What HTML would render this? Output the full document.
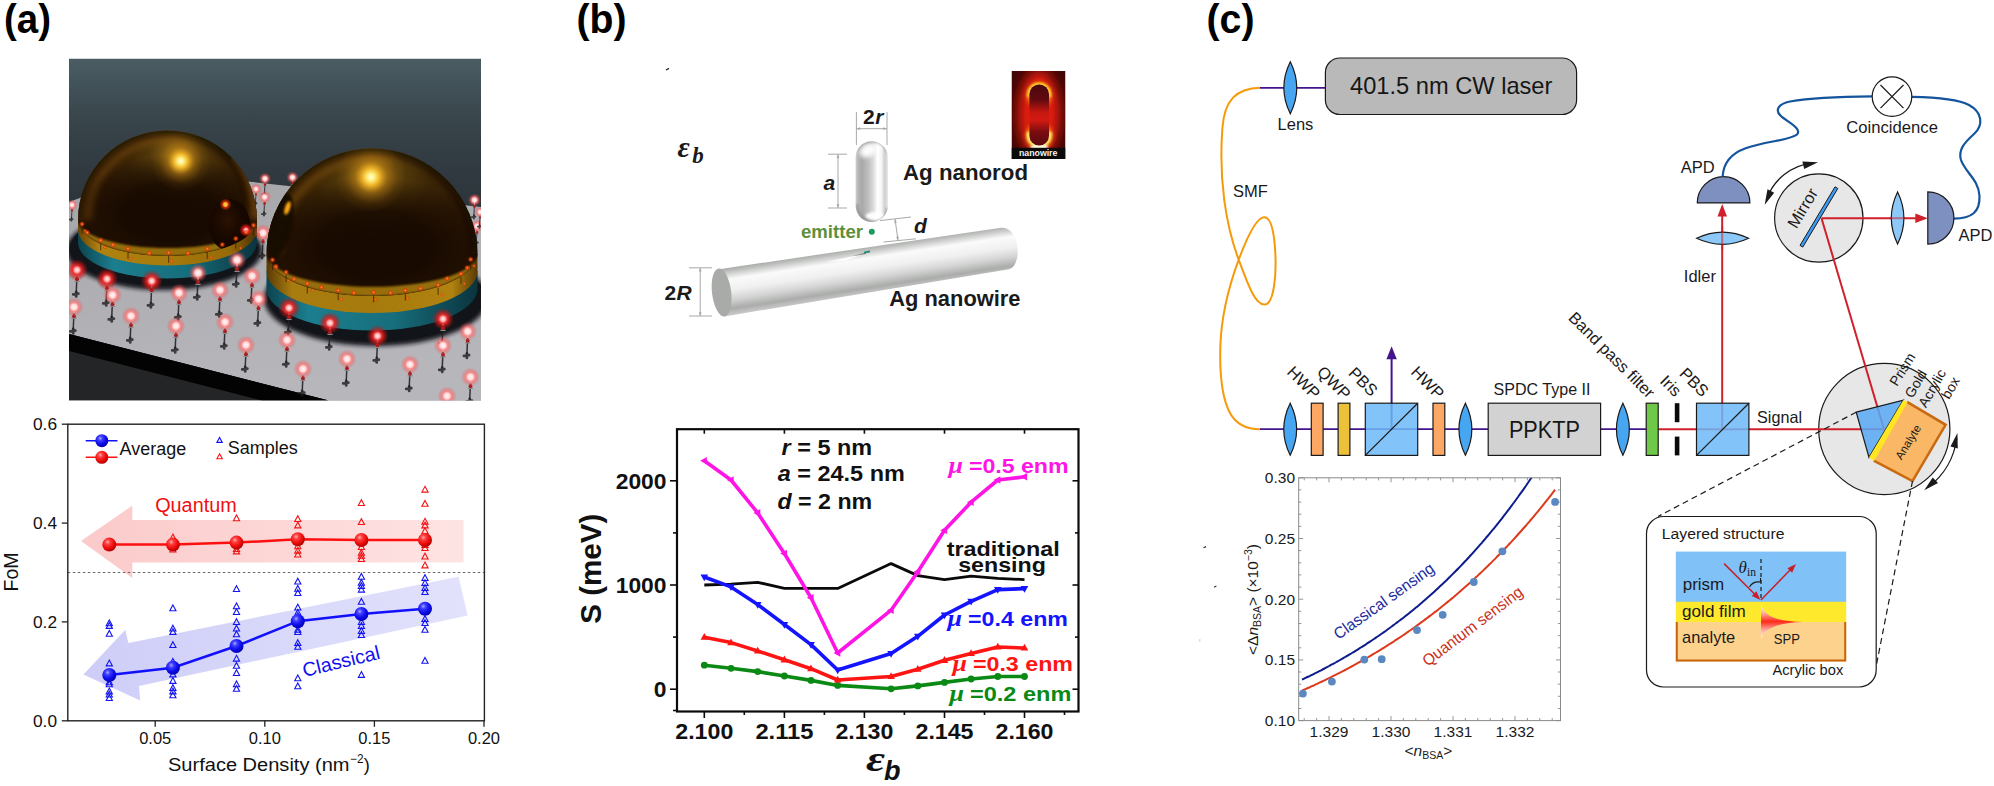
<!DOCTYPE html>
<html lang="en"><head><meta charset="utf-8"><title>Quantum plasmonic sensing figure</title>
<style>
html,body{margin:0;padding:0;background:#fff;}
body{width:1994px;height:786px;overflow:hidden;font-family:"Liberation Sans",sans-serif;}
svg{display:block;}
text{white-space:pre;}
</style></head><body>
<svg width="1994" height="786" viewBox="0 0 1994 786">
<rect width="1994" height="786" fill="#fff"/>
<defs>
<clipPath id="clipA"><rect x="69" y="58.5" width="412" height="342.0"/></clipPath>
<linearGradient id="bgA" x1="0" y1="0" x2="0" y2="1">
 <stop offset="0" stop-color="#4b5d63"/><stop offset=".07" stop-color="#43535a"/><stop offset=".18" stop-color="#38454b"/><stop offset=".32" stop-color="#303a40"/><stop offset=".45" stop-color="#2b3439"/><stop offset="1" stop-color="#24292e"/></linearGradient>
<linearGradient id="floorA" x1="0" y1="0" x2="0.25" y2="1">
 <stop offset="0" stop-color="#a4a5a9"/><stop offset=".5" stop-color="#aeaeb3"/><stop offset="1" stop-color="#b6b6bb"/></linearGradient>
<radialGradient id="gPink"><stop offset="0" stop-color="#fff6f6"/><stop offset=".3" stop-color="#ffdada"/><stop offset=".46" stop-color="#ff8c8c" stop-opacity=".9"/><stop offset=".7" stop-color="#ff5a5a" stop-opacity=".4"/><stop offset="1" stop-color="#ff4a4a" stop-opacity="0"/></radialGradient>
<radialGradient id="gRed"><stop offset="0" stop-color="#fff0f0"/><stop offset=".22" stop-color="#ffb0b0"/><stop offset=".4" stop-color="#f02a2a" stop-opacity=".95"/><stop offset=".68" stop-color="#d01414" stop-opacity=".55"/><stop offset="1" stop-color="#c01010" stop-opacity="0"/></radialGradient>
<radialGradient id="gOr"><stop offset="0" stop-color="#ffb060"/><stop offset=".3" stop-color="#ff5a10"/><stop offset=".65" stop-color="#e03000" stop-opacity=".6"/><stop offset="1" stop-color="#e03000" stop-opacity="0"/></radialGradient>
<radialGradient id="core"><stop offset="0" stop-color="#140700" stop-opacity=".92"/><stop offset=".5" stop-color="#140700" stop-opacity=".8"/><stop offset=".8" stop-color="#140700" stop-opacity=".35"/><stop offset="1" stop-color="#140700" stop-opacity="0"/></radialGradient>
<radialGradient id="refl" cx=".45" cy=".4" r=".6"><stop offset="0" stop-color="#2a1202"/><stop offset=".6" stop-color="#180800"/><stop offset=".9" stop-color="#120500"/><stop offset="1" stop-color="#120500" stop-opacity=".6"/></radialGradient>
<radialGradient id="hl"><stop offset="0" stop-color="#ffffe0"/><stop offset=".1" stop-color="#fff080"/><stop offset=".24" stop-color="#f4b828" stop-opacity=".95"/><stop offset=".45" stop-color="#c88a18" stop-opacity=".5"/><stop offset=".75" stop-color="#a06a10" stop-opacity=".15"/><stop offset="1" stop-color="#a06a10" stop-opacity="0"/></radialGradient>
<radialGradient id="dg1" gradientUnits="userSpaceOnUse" cx="176" cy="150" r="125">
 <stop offset="0" stop-color="#8a6214"/><stop offset=".1" stop-color="#6e4e10"/><stop offset=".22" stop-color="#50370a"/><stop offset=".4" stop-color="#3a2406"/><stop offset=".65" stop-color="#2b1603"/><stop offset="1" stop-color="#201002"/></radialGradient>
<radialGradient id="dg2" gradientUnits="userSpaceOnUse" cx="372" cy="170" r="150">
 <stop offset="0" stop-color="#8a6214"/><stop offset=".1" stop-color="#6e4e10"/><stop offset=".22" stop-color="#50370a"/><stop offset=".4" stop-color="#3a2406"/><stop offset=".65" stop-color="#2b1603"/><stop offset="1" stop-color="#201002"/></radialGradient>
<linearGradient id="gband1" x1="0" y1="0" x2="1" y2="0"><stop offset="0" stop-color="#6a4406"/><stop offset=".12" stop-color="#b08210"/><stop offset=".5" stop-color="#a67a0c"/><stop offset=".85" stop-color="#966a08"/><stop offset="1" stop-color="#4a2e04"/></linearGradient>
<linearGradient id="gband2" x1="0" y1="0" x2="1" y2="0"><stop offset="0" stop-color="#5a3a06"/><stop offset=".12" stop-color="#a87c0e"/><stop offset=".5" stop-color="#a67a0c"/><stop offset=".88" stop-color="#b08210"/><stop offset="1" stop-color="#5a3a04"/></linearGradient>
<linearGradient id="teal1" x1="0" y1="0" x2="1" y2="0"><stop offset="0" stop-color="#0c4450"/><stop offset=".2" stop-color="#1b7e8e"/><stop offset=".6" stop-color="#176e7c"/><stop offset="1" stop-color="#0a343e"/></linearGradient>
<linearGradient id="teal2" x1="0" y1="0" x2="1" y2="0"><stop offset="0" stop-color="#0c4450"/><stop offset=".2" stop-color="#1b7e8e"/><stop offset=".6" stop-color="#176e7c"/><stop offset="1" stop-color="#0a343e"/></linearGradient>
<filter id="blur05" x="-40%" y="-40%" width="180%" height="180%"><feGaussianBlur stdDeviation="0.6"/></filter>
<filter id="blur1" x="-20%" y="-20%" width="140%" height="140%"><feGaussianBlur stdDeviation="0.8"/></filter>
<filter id="blur2" x="-20%" y="-20%" width="140%" height="140%"><feGaussianBlur stdDeviation="2"/></filter>
<filter id="blur3" x="-20%" y="-20%" width="140%" height="140%"><feGaussianBlur stdDeviation="3"/></filter>
<filter id="blur6" x="-70%" y="-70%" width="240%" height="240%"><feGaussianBlur stdDeviation="8"/></filter>
</defs>
<g clip-path="url(#clipA)">
<rect x="69" y="58.5" width="412" height="342.0" fill="url(#bgA)"/>
<polygon points="69.0,202.0 150.0,172.0 250.0,181.7 481.0,207.0 481.0,400.5 328.6,400.5 69.0,334.0" fill="url(#floorA)"/>
<polygon points="69.0,334.0 328.6,400.5 69.0,400.5" fill="#242526"/>
<polygon points="69.0,334.0 328.6,400.5 262.0,400.5 69.0,351.0" fill="#030303"/>
<path d="M69.7,219.6 l3.1,-0.4 M71.5,218.1 v2.8" stroke="#1a1a1e" stroke-width="1.6" stroke-linecap="round" opacity=".78" filter="url(#blur05)"/><path d="M72.0,208.0 L71.5,218.8" stroke="#242226" stroke-width="0.9" opacity=".9"/><path d="M70.4,211.8 h3.1" stroke="#8a8a8e" stroke-width="0.8"/><circle cx="72.0" cy="210.5" r="1.1" fill="#a81c1c"/><path d="M72.0,206.8 v2.0" stroke="#ffe8e8" stroke-width="0.8"/><circle cx="72.0" cy="205.0" r="5.7" fill="url(#gPink)"/>
<path d="M262.5,194.6 l3.4,-0.5 M264.5,192.9 v3.0" stroke="#1a1a1e" stroke-width="1.8" stroke-linecap="round" opacity=".78" filter="url(#blur05)"/><path d="M265.0,181.9 L264.5,193.6" stroke="#242226" stroke-width="1.0" opacity=".9"/><path d="M263.3,186.1 h3.4" stroke="#8a8a8e" stroke-width="0.8"/><circle cx="265.0" cy="184.7" r="1.2" fill="#a81c1c"/><path d="M265.0,180.6 v2.2" stroke="#ffe8e8" stroke-width="0.9"/><circle cx="265.0" cy="178.7" r="6.2" fill="url(#gPink)"/>
<path d="M290.0,193.3 l3.4,-0.5 M292.0,191.6 v3.0" stroke="#1a1a1e" stroke-width="1.8" stroke-linecap="round" opacity=".78" filter="url(#blur05)"/><path d="M292.5,180.7 L292.0,192.3" stroke="#242226" stroke-width="1.0" opacity=".9"/><path d="M290.8,184.8 h3.4" stroke="#8a8a8e" stroke-width="0.8"/><circle cx="292.5" cy="183.4" r="1.2" fill="#a81c1c"/><path d="M292.5,179.3 v2.2" stroke="#ffe8e8" stroke-width="0.9"/><circle cx="292.5" cy="177.4" r="6.2" fill="url(#gPink)"/>
<path d="M261.9,214.1 l3.6,-0.5 M264.0,212.3 v3.2" stroke="#1a1a1e" stroke-width="1.9" stroke-linecap="round" opacity=".78" filter="url(#blur05)"/><path d="M264.6,200.5 L264.0,213.1" stroke="#242226" stroke-width="1.0" opacity=".9"/><path d="M262.8,205.0 h3.6" stroke="#8a8a8e" stroke-width="0.9"/><circle cx="264.6" cy="203.4" r="1.3" fill="#a81c1c"/><path d="M264.6,199.1 v2.4" stroke="#ffe8e8" stroke-width="1.0"/><circle cx="264.6" cy="197.0" r="6.6" fill="url(#gPink)"/>
<path d="M253.7,203.6 l3.1,-0.4 M255.5,202.1 v2.8" stroke="#1a1a1e" stroke-width="1.6" stroke-linecap="round" opacity=".78" filter="url(#blur05)"/><path d="M256.0,192.0 L255.5,202.8" stroke="#242226" stroke-width="0.9" opacity=".9"/><path d="M254.4,195.8 h3.1" stroke="#8a8a8e" stroke-width="0.8"/><circle cx="256.0" cy="194.5" r="1.1" fill="#a81c1c"/><path d="M256.0,190.8 v2.0" stroke="#ffe8e8" stroke-width="0.8"/><circle cx="256.0" cy="189.0" r="5.7" fill="url(#gPink)"/>
<path d="M471.8,217.1 l3.6,-0.5 M473.9,215.3 v3.2" stroke="#1a1a1e" stroke-width="1.9" stroke-linecap="round" opacity=".78" filter="url(#blur05)"/><path d="M474.5,203.5 L473.9,216.1" stroke="#242226" stroke-width="1.0" opacity=".9"/><path d="M472.7,208.0 h3.6" stroke="#8a8a8e" stroke-width="0.9"/><circle cx="474.5" cy="206.4" r="1.3" fill="#a81c1c"/><path d="M474.5,202.1 v2.4" stroke="#ffe8e8" stroke-width="1.0"/><circle cx="474.5" cy="200.0" r="6.6" fill="url(#gPink)"/>
<path d="M474.3,243.1 l3.6,-0.5 M476.4,241.3 v3.2" stroke="#1a1a1e" stroke-width="1.9" stroke-linecap="round" opacity=".78" filter="url(#blur05)"/><path d="M477.0,229.5 L476.4,242.1" stroke="#242226" stroke-width="1.0" opacity=".9"/><path d="M475.2,234.0 h3.6" stroke="#8a8a8e" stroke-width="0.9"/><circle cx="477.0" cy="232.4" r="1.3" fill="#a81c1c"/><path d="M477.0,228.1 v2.4" stroke="#ffe8e8" stroke-width="1.0"/><circle cx="477.0" cy="226.0" r="6.6" fill="url(#gPink)"/>
<path d="M477.7,226.6 l3.1,-0.4 M479.5,225.1 v2.8" stroke="#1a1a1e" stroke-width="1.6" stroke-linecap="round" opacity=".78" filter="url(#blur05)"/><path d="M480.0,215.0 L479.5,225.8" stroke="#242226" stroke-width="0.9" opacity=".9"/><path d="M478.4,218.8 h3.1" stroke="#8a8a8e" stroke-width="0.8"/><circle cx="480.0" cy="217.5" r="1.1" fill="#a81c1c"/><path d="M480.0,213.8 v2.0" stroke="#ffe8e8" stroke-width="0.8"/><circle cx="480.0" cy="212.0" r="5.7" fill="url(#gPink)"/>
<ellipse cx="164" cy="250" rx="98" ry="40" fill="#15181c" filter="url(#blur2)"/><ellipse cx="164" cy="248" rx="94" ry="37" fill="#111418"/><path d="M78.0,229.5 L78.0,242.5 A89.5,36 0 0 0 257.0,242.5 L257.0,229.5 Z" fill="url(#teal1)"/><path d="M78.0,220 L78.0,229.5 A89.5,36 0 0 0 257.0,229.5 L257.0,220 Z" fill="url(#gband1)"/><clipPath id="dc1"><path d="M78.0,220 A89.5,89.5 0 0 1 257.0,220 A89.5,36 0 0 1 78.0,220 Z"/></clipPath><path d="M78.0,220 A89.5,89.5 0 0 1 257.0,220 A89.5,36 0 0 1 78.0,220 Z" fill="url(#dg1)"/><g clip-path="url(#dc1)"><path d="M83.0,220 A84.5,84.5 0 0 1 185.4,135.5" fill="none" stroke="#7a4e0c" stroke-width="19.7" opacity=".55" filter="url(#blur3)"/><ellipse cx="171.1" cy="211.1" rx="94.0" ry="55.5" fill="url(#core)"/><path d="M78.0,220 A89.5,36 0 0 0 257.0,220 A89.5,28.1 0 0 1 78.0,220 Z" fill="#9e740c" opacity=".95" filter="url(#blur1)"/><path d="M78.0,220 A89.5,89.5 0 0 1 257.0,220" fill="none" stroke="#120800" stroke-width="9" opacity=".85" filter="url(#blur3)"/><circle cx="180.8" cy="161" r="30.4" fill="url(#hl)"/></g>
<g clip-path="url(#dc1)"><path d="M236,150 A89.5,89.5 0 0 1 257,220" fill="none" stroke="#7a4a0a" stroke-width="16" opacity=".7" filter="url(#blur3)"/><ellipse cx="229.5" cy="225" rx="20.5" ry="26" fill="url(#refl)"/><circle cx="225.5" cy="204.5" r="6" fill="url(#gOr)"/><circle cx="225.5" cy="204.5" r="2.2" fill="#ffc040"/></g>
<path d="M259.4,256.2 l4.9,-0.7 M262.2,253.7 v4.4" stroke="#1a1a1e" stroke-width="2.6" stroke-linecap="round" opacity=".78" filter="url(#blur05)"/><path d="M263.0,237.8 L262.2,254.9" stroke="#242226" stroke-width="1.4" opacity=".9"/><path d="M260.5,243.8 h4.9" stroke="#8a8a8e" stroke-width="1.2"/><circle cx="263.0" cy="241.7" r="1.8" fill="#a81c1c"/><path d="M263.0,235.8 v3.2" stroke="#ffe8e8" stroke-width="1.3"/><circle cx="263.0" cy="233.0" r="9.0" fill="url(#gPink)"/>
<ellipse cx="376" cy="298.5" rx="112" ry="47.5" fill="#15181c" filter="url(#blur2)"/><ellipse cx="376" cy="296.5" rx="108" ry="44.5" fill="#111418"/><path d="M266.5,271 L266.5,288.5 A105.5,42 0 0 0 477.5,288.5 L477.5,271 Z" fill="url(#teal2)"/><path d="M266.5,254 L266.5,271 A105.5,42 0 0 0 477.5,271 L477.5,254 Z" fill="url(#gband2)"/><clipPath id="dc2"><path d="M266.5,254 A105.5,105.5 0 0 1 477.5,254 A105.5,42 0 0 1 266.5,254 Z"/></clipPath><path d="M266.5,254 A105.5,105.5 0 0 1 477.5,254 A105.5,42 0 0 1 266.5,254 Z" fill="url(#dg2)"/><g clip-path="url(#dc2)"><path d="M271.5,254 A100.5,100.5 0 0 1 393.1,153.5" fill="none" stroke="#7a4e0c" stroke-width="23.2" opacity=".55" filter="url(#blur3)"/><ellipse cx="376.2" cy="243.4" rx="110.8" ry="65.4" fill="url(#core)"/><path d="M266.5,254 A105.5,42 0 0 0 477.5,254 A105.5,32.8 0 0 1 266.5,254 Z" fill="#9e740c" opacity=".95" filter="url(#blur1)"/><path d="M266.5,254 A105.5,105.5 0 0 1 477.5,254" fill="none" stroke="#120800" stroke-width="9" opacity=".85" filter="url(#blur3)"/><circle cx="371" cy="177" r="35.9" fill="url(#hl)"/></g>
<g clip-path="url(#dc2)"><ellipse cx="280" cy="226" rx="11.5" ry="33" fill="#160700" opacity=".95" transform="rotate(13 280 226)" filter="url(#blur1)"/><ellipse cx="287.5" cy="208" rx="2.6" ry="7" fill="#ffa818" transform="rotate(18 287.5 208)" filter="url(#blur1)"/></g>
<circle cx="246" cy="230" r="7" fill="url(#gRed)"/><circle cx="82.0" cy="224.1" r="3.1" fill="url(#gOr)" opacity=".85"/><path d="M82.0,227.1 v7" stroke="#3a2000" stroke-width="1" opacity=".8"/><circle cx="85.2" cy="230.7" r="2.3" fill="url(#gOr)" opacity=".7"/><circle cx="87.3" cy="232.5" r="3.1" fill="url(#gOr)" opacity=".85"/><circle cx="100.7" cy="240.3" r="3.1" fill="url(#gOr)" opacity=".85"/><path d="M100.7,243.3 v7" stroke="#3a2000" stroke-width="1" opacity=".8"/><circle cx="105.0" cy="247.2" r="2.3" fill="url(#gOr)" opacity=".7"/><circle cx="112.9" cy="244.9" r="3.1" fill="url(#gOr)" opacity=".85"/><circle cx="128.0" cy="248.8" r="3.1" fill="url(#gOr)" opacity=".85"/><path d="M128.0,251.8 v7" stroke="#3a2000" stroke-width="1" opacity=".8"/><circle cx="130.6" cy="258.5" r="2.3" fill="url(#gOr)" opacity=".7"/><circle cx="149.2" cy="253.2" r="3.1" fill="url(#gOr)" opacity=".85"/><circle cx="168.7" cy="252.7" r="3.1" fill="url(#gOr)" opacity=".85"/><path d="M168.7,255.7 v7" stroke="#3a2000" stroke-width="1" opacity=".8"/><circle cx="171.6" cy="261.2" r="2.3" fill="url(#gOr)" opacity=".7"/><circle cx="188.0" cy="253.3" r="3.1" fill="url(#gOr)" opacity=".85"/><circle cx="207.2" cy="248.8" r="3.1" fill="url(#gOr)" opacity=".85"/><path d="M207.2,251.8 v7" stroke="#3a2000" stroke-width="1" opacity=".8"/><circle cx="211.0" cy="257.5" r="2.3" fill="url(#gOr)" opacity=".7"/><circle cx="222.3" cy="244.6" r="3.1" fill="url(#gOr)" opacity=".85"/><circle cx="235.8" cy="238.6" r="3.1" fill="url(#gOr)" opacity=".85"/><path d="M235.8,241.6 v7" stroke="#3a2000" stroke-width="1" opacity=".8"/><circle cx="240.6" cy="248.1" r="2.3" fill="url(#gOr)" opacity=".7"/><circle cx="246.2" cy="232.2" r="3.1" fill="url(#gOr)" opacity=".85"/><circle cx="253.5" cy="225.2" r="3.1" fill="url(#gOr)" opacity=".85"/><path d="M253.5,228.2 v7" stroke="#3a2000" stroke-width="1" opacity=".8"/><circle cx="258.2" cy="234.6" r="2.3" fill="url(#gOr)" opacity=".7"/><circle cx="272.5" cy="259.9" r="3.1" fill="url(#gOr)" opacity=".85"/><path d="M272.5,262.9 v7" stroke="#3a2000" stroke-width="1" opacity=".8"/><circle cx="276.3" cy="267.7" r="2.3" fill="url(#gOr)" opacity=".7"/><circle cx="275.9" cy="266.4" r="3.1" fill="url(#gOr)" opacity=".85"/><circle cx="286.1" cy="272.1" r="3.1" fill="url(#gOr)" opacity=".85"/><path d="M286.1,275.1 v7" stroke="#3a2000" stroke-width="1" opacity=".8"/><circle cx="288.2" cy="280.6" r="2.3" fill="url(#gOr)" opacity=".7"/><circle cx="294.1" cy="279.0" r="3.1" fill="url(#gOr)" opacity=".85"/><circle cx="307.3" cy="283.5" r="3.1" fill="url(#gOr)" opacity=".85"/><path d="M307.3,286.5 v7" stroke="#3a2000" stroke-width="1" opacity=".8"/><circle cx="312.3" cy="290.3" r="2.3" fill="url(#gOr)" opacity=".7"/><circle cx="321.5" cy="287.2" r="3.1" fill="url(#gOr)" opacity=".85"/><circle cx="338.2" cy="290.3" r="3.1" fill="url(#gOr)" opacity=".85"/><path d="M338.2,293.3 v7" stroke="#3a2000" stroke-width="1" opacity=".8"/><circle cx="341.3" cy="299.3" r="2.3" fill="url(#gOr)" opacity=".7"/><circle cx="353.9" cy="292.8" r="3.1" fill="url(#gOr)" opacity=".85"/><circle cx="373.6" cy="292.3" r="3.1" fill="url(#gOr)" opacity=".85"/><path d="M373.6,295.3 v7" stroke="#3a2000" stroke-width="1" opacity=".8"/><circle cx="375.8" cy="299.2" r="2.3" fill="url(#gOr)" opacity=".7"/><circle cx="390.5" cy="292.9" r="3.1" fill="url(#gOr)" opacity=".85"/><circle cx="405.3" cy="290.4" r="3.1" fill="url(#gOr)" opacity=".85"/><path d="M405.3,293.4 v7" stroke="#3a2000" stroke-width="1" opacity=".8"/><circle cx="407.8" cy="298.3" r="2.3" fill="url(#gOr)" opacity=".7"/><circle cx="420.4" cy="288.4" r="3.1" fill="url(#gOr)" opacity=".85"/><circle cx="438.1" cy="285.0" r="3.1" fill="url(#gOr)" opacity=".85"/><path d="M438.1,288.0 v7" stroke="#3a2000" stroke-width="1" opacity=".8"/><circle cx="442.3" cy="294.8" r="2.3" fill="url(#gOr)" opacity=".7"/><circle cx="447.1" cy="278.5" r="3.1" fill="url(#gOr)" opacity=".85"/><circle cx="461.0" cy="273.9" r="3.1" fill="url(#gOr)" opacity=".85"/><path d="M461.0,276.9 v7" stroke="#3a2000" stroke-width="1" opacity=".8"/><circle cx="464.3" cy="283.7" r="2.3" fill="url(#gOr)" opacity=".7"/><circle cx="467.2" cy="267.7" r="3.1" fill="url(#gOr)" opacity=".85"/><circle cx="470.7" cy="259.4" r="3.1" fill="url(#gOr)" opacity=".85"/><path d="M470.7,262.4 v7" stroke="#3a2000" stroke-width="1" opacity=".8"/><circle cx="474.0" cy="265.9" r="2.3" fill="url(#gOr)" opacity=".7"/>
<path d="M73.2,294.4 l5.2,-0.7 M76.2,291.8 v4.6" stroke="#1a1a1e" stroke-width="2.7" stroke-linecap="round" opacity=".78" filter="url(#blur05)"/><path d="M77.0,275.0 L76.2,293.0" stroke="#242226" stroke-width="1.5" opacity=".9"/><path d="M74.4,281.4 h5.2" stroke="#8a8a8e" stroke-width="1.3"/><circle cx="77.0" cy="279.2" r="1.9" fill="#a81c1c"/><path d="M77.0,273.0 v3.4" stroke="#ffe8e8" stroke-width="1.4"/><circle cx="77.0" cy="270.0" r="11.0" fill="url(#gRed)"/>
<path d="M103.2,303.4 l5.2,-0.7 M106.2,300.8 v4.6" stroke="#1a1a1e" stroke-width="2.7" stroke-linecap="round" opacity=".78" filter="url(#blur05)"/><path d="M107.0,284.0 L106.2,302.0" stroke="#242226" stroke-width="1.5" opacity=".9"/><path d="M104.4,290.4 h5.2" stroke="#8a8a8e" stroke-width="1.3"/><circle cx="107.0" cy="288.2" r="1.9" fill="#a81c1c"/><path d="M107.0,282.0 v3.4" stroke="#ffe8e8" stroke-width="1.4"/><circle cx="107.0" cy="279.0" r="11.0" fill="url(#gRed)"/>
<path d="M108.7,319.4 l5.2,-0.7 M111.7,316.8 v4.6" stroke="#1a1a1e" stroke-width="2.7" stroke-linecap="round" opacity=".78" filter="url(#blur05)"/><path d="M112.5,300.0 L111.7,318.0" stroke="#242226" stroke-width="1.5" opacity=".9"/><path d="M109.9,306.4 h5.2" stroke="#8a8a8e" stroke-width="1.3"/><circle cx="112.5" cy="304.2" r="1.9" fill="#a81c1c"/><path d="M112.5,298.0 v3.4" stroke="#ffe8e8" stroke-width="1.4"/><circle cx="112.5" cy="295.0" r="9.5" fill="url(#gPink)"/>
<path d="M147.9,305.4 l5.2,-0.7 M150.9,302.8 v4.6" stroke="#1a1a1e" stroke-width="2.7" stroke-linecap="round" opacity=".78" filter="url(#blur05)"/><path d="M151.7,286.0 L150.9,304.0" stroke="#242226" stroke-width="1.5" opacity=".9"/><path d="M149.1,292.4 h5.2" stroke="#8a8a8e" stroke-width="1.3"/><circle cx="151.7" cy="290.2" r="1.9" fill="#a81c1c"/><path d="M151.7,284.0 v3.4" stroke="#ffe8e8" stroke-width="1.4"/><circle cx="151.7" cy="281.0" r="11.0" fill="url(#gRed)"/>
<path d="M194.2,297.4 l5.2,-0.7 M197.2,294.8 v4.6" stroke="#1a1a1e" stroke-width="2.7" stroke-linecap="round" opacity=".78" filter="url(#blur05)"/><path d="M198.0,278.0 L197.2,296.0" stroke="#242226" stroke-width="1.5" opacity=".9"/><path d="M195.4,284.4 h5.2" stroke="#8a8a8e" stroke-width="1.3"/><circle cx="198.0" cy="282.2" r="1.9" fill="#a81c1c"/><path d="M198.0,276.0 v3.4" stroke="#ffe8e8" stroke-width="1.4"/><circle cx="198.0" cy="273.0" r="9.5" fill="url(#gPink)"/>
<path d="M233.2,284.4 l5.2,-0.7 M236.2,281.8 v4.6" stroke="#1a1a1e" stroke-width="2.7" stroke-linecap="round" opacity=".78" filter="url(#blur05)"/><path d="M237.0,265.0 L236.2,283.0" stroke="#242226" stroke-width="1.5" opacity=".9"/><path d="M234.4,271.4 h5.2" stroke="#8a8a8e" stroke-width="1.3"/><circle cx="237.0" cy="269.2" r="1.9" fill="#a81c1c"/><path d="M237.0,263.0 v3.4" stroke="#ffe8e8" stroke-width="1.4"/><circle cx="237.0" cy="260.0" r="9.5" fill="url(#gPink)"/>
<path d="M248.2,300.4 l5.2,-0.7 M251.2,297.8 v4.6" stroke="#1a1a1e" stroke-width="2.7" stroke-linecap="round" opacity=".78" filter="url(#blur05)"/><path d="M252.0,281.0 L251.2,299.0" stroke="#242226" stroke-width="1.5" opacity=".9"/><path d="M249.4,287.4 h5.2" stroke="#8a8a8e" stroke-width="1.3"/><circle cx="252.0" cy="285.2" r="1.9" fill="#a81c1c"/><path d="M252.0,279.0 v3.4" stroke="#ffe8e8" stroke-width="1.4"/><circle cx="252.0" cy="276.0" r="9.5" fill="url(#gPink)"/>
<path d="M70.2,331.4 l5.2,-0.7 M73.2,328.8 v4.6" stroke="#1a1a1e" stroke-width="2.7" stroke-linecap="round" opacity=".78" filter="url(#blur05)"/><path d="M74.0,312.0 L73.2,330.0" stroke="#242226" stroke-width="1.5" opacity=".9"/><path d="M71.4,318.4 h5.2" stroke="#8a8a8e" stroke-width="1.3"/><circle cx="74.0" cy="316.2" r="1.9" fill="#a81c1c"/><path d="M74.0,310.0 v3.4" stroke="#ffe8e8" stroke-width="1.4"/><circle cx="74.0" cy="307.0" r="9.5" fill="url(#gPink)"/>
<path d="M127.2,340.4 l5.2,-0.7 M130.2,337.8 v4.6" stroke="#1a1a1e" stroke-width="2.7" stroke-linecap="round" opacity=".78" filter="url(#blur05)"/><path d="M131.0,321.0 L130.2,339.0" stroke="#242226" stroke-width="1.5" opacity=".9"/><path d="M128.4,327.4 h5.2" stroke="#8a8a8e" stroke-width="1.3"/><circle cx="131.0" cy="325.2" r="1.9" fill="#a81c1c"/><path d="M131.0,319.0 v3.4" stroke="#ffe8e8" stroke-width="1.4"/><circle cx="131.0" cy="316.0" r="9.5" fill="url(#gPink)"/>
<path d="M175.2,317.4 l5.2,-0.7 M178.2,314.8 v4.6" stroke="#1a1a1e" stroke-width="2.7" stroke-linecap="round" opacity=".78" filter="url(#blur05)"/><path d="M179.0,298.0 L178.2,316.0" stroke="#242226" stroke-width="1.5" opacity=".9"/><path d="M176.4,304.4 h5.2" stroke="#8a8a8e" stroke-width="1.3"/><circle cx="179.0" cy="302.2" r="1.9" fill="#a81c1c"/><path d="M179.0,296.0 v3.4" stroke="#ffe8e8" stroke-width="1.4"/><circle cx="179.0" cy="293.0" r="9.5" fill="url(#gPink)"/>
<path d="M172.2,350.4 l5.2,-0.7 M175.2,347.8 v4.6" stroke="#1a1a1e" stroke-width="2.7" stroke-linecap="round" opacity=".78" filter="url(#blur05)"/><path d="M176.0,331.0 L175.2,349.0" stroke="#242226" stroke-width="1.5" opacity=".9"/><path d="M173.4,337.4 h5.2" stroke="#8a8a8e" stroke-width="1.3"/><circle cx="176.0" cy="335.2" r="1.9" fill="#a81c1c"/><path d="M176.0,329.0 v3.4" stroke="#ffe8e8" stroke-width="1.4"/><circle cx="176.0" cy="326.0" r="9.5" fill="url(#gPink)"/>
<path d="M216.2,314.4 l5.2,-0.7 M219.2,311.8 v4.6" stroke="#1a1a1e" stroke-width="2.7" stroke-linecap="round" opacity=".78" filter="url(#blur05)"/><path d="M220.0,295.0 L219.2,313.0" stroke="#242226" stroke-width="1.5" opacity=".9"/><path d="M217.4,301.4 h5.2" stroke="#8a8a8e" stroke-width="1.3"/><circle cx="220.0" cy="299.2" r="1.9" fill="#a81c1c"/><path d="M220.0,293.0 v3.4" stroke="#ffe8e8" stroke-width="1.4"/><circle cx="220.0" cy="290.0" r="9.5" fill="url(#gPink)"/>
<path d="M221.2,346.4 l5.2,-0.7 M224.2,343.8 v4.6" stroke="#1a1a1e" stroke-width="2.7" stroke-linecap="round" opacity=".78" filter="url(#blur05)"/><path d="M225.0,327.0 L224.2,345.0" stroke="#242226" stroke-width="1.5" opacity=".9"/><path d="M222.4,333.4 h5.2" stroke="#8a8a8e" stroke-width="1.3"/><circle cx="225.0" cy="331.2" r="1.9" fill="#a81c1c"/><path d="M225.0,325.0 v3.4" stroke="#ffe8e8" stroke-width="1.4"/><circle cx="225.0" cy="322.0" r="9.5" fill="url(#gPink)"/>
<path d="M242.2,369.4 l5.2,-0.7 M245.2,366.8 v4.6" stroke="#1a1a1e" stroke-width="2.7" stroke-linecap="round" opacity=".78" filter="url(#blur05)"/><path d="M246.0,350.0 L245.2,368.0" stroke="#242226" stroke-width="1.5" opacity=".9"/><path d="M243.4,356.4 h5.2" stroke="#8a8a8e" stroke-width="1.3"/><circle cx="246.0" cy="354.2" r="1.9" fill="#a81c1c"/><path d="M246.0,348.0 v3.4" stroke="#ffe8e8" stroke-width="1.4"/><circle cx="246.0" cy="345.0" r="9.5" fill="url(#gPink)"/>
<path d="M254.7,323.4 l5.2,-0.7 M257.7,320.8 v4.6" stroke="#1a1a1e" stroke-width="2.7" stroke-linecap="round" opacity=".78" filter="url(#blur05)"/><path d="M258.5,304.0 L257.7,322.0" stroke="#242226" stroke-width="1.5" opacity=".9"/><path d="M255.9,310.4 h5.2" stroke="#8a8a8e" stroke-width="1.3"/><circle cx="258.5" cy="308.2" r="1.9" fill="#a81c1c"/><path d="M258.5,302.0 v3.4" stroke="#ffe8e8" stroke-width="1.4"/><circle cx="258.5" cy="299.0" r="9.5" fill="url(#gPink)"/>
<path d="M285.2,332.4 l5.2,-0.7 M288.2,329.8 v4.6" stroke="#1a1a1e" stroke-width="2.7" stroke-linecap="round" opacity=".78" filter="url(#blur05)"/><path d="M289.0,313.0 L288.2,331.0" stroke="#242226" stroke-width="1.5" opacity=".9"/><path d="M286.4,319.4 h5.2" stroke="#8a8a8e" stroke-width="1.3"/><circle cx="289.0" cy="317.2" r="1.9" fill="#a81c1c"/><path d="M289.0,311.0 v3.4" stroke="#ffe8e8" stroke-width="1.4"/><circle cx="289.0" cy="308.0" r="11.0" fill="url(#gRed)"/>
<path d="M283.2,364.4 l5.2,-0.7 M286.2,361.8 v4.6" stroke="#1a1a1e" stroke-width="2.7" stroke-linecap="round" opacity=".78" filter="url(#blur05)"/><path d="M287.0,345.0 L286.2,363.0" stroke="#242226" stroke-width="1.5" opacity=".9"/><path d="M284.4,351.4 h5.2" stroke="#8a8a8e" stroke-width="1.3"/><circle cx="287.0" cy="349.2" r="1.9" fill="#a81c1c"/><path d="M287.0,343.0 v3.4" stroke="#ffe8e8" stroke-width="1.4"/><circle cx="287.0" cy="340.0" r="9.5" fill="url(#gPink)"/>
<path d="M326.2,347.4 l5.2,-0.7 M329.2,344.8 v4.6" stroke="#1a1a1e" stroke-width="2.7" stroke-linecap="round" opacity=".78" filter="url(#blur05)"/><path d="M330.0,328.0 L329.2,346.0" stroke="#242226" stroke-width="1.5" opacity=".9"/><path d="M327.4,334.4 h5.2" stroke="#8a8a8e" stroke-width="1.3"/><circle cx="330.0" cy="332.2" r="1.9" fill="#a81c1c"/><path d="M330.0,326.0 v3.4" stroke="#ffe8e8" stroke-width="1.4"/><circle cx="330.0" cy="323.0" r="11.0" fill="url(#gRed)"/>
<path d="M373.7,360.4 l5.2,-0.7 M376.7,357.8 v4.6" stroke="#1a1a1e" stroke-width="2.7" stroke-linecap="round" opacity=".78" filter="url(#blur05)"/><path d="M377.5,341.0 L376.7,359.0" stroke="#242226" stroke-width="1.5" opacity=".9"/><path d="M374.9,347.4 h5.2" stroke="#8a8a8e" stroke-width="1.3"/><circle cx="377.5" cy="345.2" r="1.9" fill="#a81c1c"/><path d="M377.5,339.0 v3.4" stroke="#ffe8e8" stroke-width="1.4"/><circle cx="377.5" cy="336.0" r="11.0" fill="url(#gRed)"/>
<path d="M439.2,343.4 l5.2,-0.7 M442.2,340.8 v4.6" stroke="#1a1a1e" stroke-width="2.7" stroke-linecap="round" opacity=".78" filter="url(#blur05)"/><path d="M443.0,324.0 L442.2,342.0" stroke="#242226" stroke-width="1.5" opacity=".9"/><path d="M440.4,330.4 h5.2" stroke="#8a8a8e" stroke-width="1.3"/><circle cx="443.0" cy="328.2" r="1.9" fill="#a81c1c"/><path d="M443.0,322.0 v3.4" stroke="#ffe8e8" stroke-width="1.4"/><circle cx="443.0" cy="319.0" r="11.0" fill="url(#gRed)"/>
<path d="M299.2,393.4 l5.2,-0.7 M302.2,390.8 v4.6" stroke="#1a1a1e" stroke-width="2.7" stroke-linecap="round" opacity=".78" filter="url(#blur05)"/><path d="M303.0,374.0 L302.2,392.0" stroke="#242226" stroke-width="1.5" opacity=".9"/><path d="M300.4,380.4 h5.2" stroke="#8a8a8e" stroke-width="1.3"/><circle cx="303.0" cy="378.2" r="1.9" fill="#a81c1c"/><path d="M303.0,372.0 v3.4" stroke="#ffe8e8" stroke-width="1.4"/><circle cx="303.0" cy="369.0" r="9.5" fill="url(#gPink)"/>
<path d="M343.2,383.4 l5.2,-0.7 M346.2,380.8 v4.6" stroke="#1a1a1e" stroke-width="2.7" stroke-linecap="round" opacity=".78" filter="url(#blur05)"/><path d="M347.0,364.0 L346.2,382.0" stroke="#242226" stroke-width="1.5" opacity=".9"/><path d="M344.4,370.4 h5.2" stroke="#8a8a8e" stroke-width="1.3"/><circle cx="347.0" cy="368.2" r="1.9" fill="#a81c1c"/><path d="M347.0,362.0 v3.4" stroke="#ffe8e8" stroke-width="1.4"/><circle cx="347.0" cy="359.0" r="9.5" fill="url(#gPink)"/>
<path d="M406.2,388.9 l5.2,-0.7 M409.2,386.3 v4.6" stroke="#1a1a1e" stroke-width="2.7" stroke-linecap="round" opacity=".78" filter="url(#blur05)"/><path d="M410.0,369.5 L409.2,387.5" stroke="#242226" stroke-width="1.5" opacity=".9"/><path d="M407.4,375.9 h5.2" stroke="#8a8a8e" stroke-width="1.3"/><circle cx="410.0" cy="373.7" r="1.9" fill="#a81c1c"/><path d="M410.0,367.5 v3.4" stroke="#ffe8e8" stroke-width="1.4"/><circle cx="410.0" cy="364.5" r="9.5" fill="url(#gPink)"/>
<path d="M439.2,369.9 l5.2,-0.7 M442.2,367.3 v4.6" stroke="#1a1a1e" stroke-width="2.7" stroke-linecap="round" opacity=".78" filter="url(#blur05)"/><path d="M443.0,350.5 L442.2,368.5" stroke="#242226" stroke-width="1.5" opacity=".9"/><path d="M440.4,356.9 h5.2" stroke="#8a8a8e" stroke-width="1.3"/><circle cx="443.0" cy="354.7" r="1.9" fill="#a81c1c"/><path d="M443.0,348.5 v3.4" stroke="#ffe8e8" stroke-width="1.4"/><circle cx="443.0" cy="345.5" r="9.5" fill="url(#gPink)"/>
<path d="M463.9,355.9 l5.2,-0.7 M466.9,353.3 v4.6" stroke="#1a1a1e" stroke-width="2.7" stroke-linecap="round" opacity=".78" filter="url(#blur05)"/><path d="M467.7,336.5 L466.9,354.5" stroke="#242226" stroke-width="1.5" opacity=".9"/><path d="M465.1,342.9 h5.2" stroke="#8a8a8e" stroke-width="1.3"/><circle cx="467.7" cy="340.7" r="1.9" fill="#a81c1c"/><path d="M467.7,334.5 v3.4" stroke="#ffe8e8" stroke-width="1.4"/><circle cx="467.7" cy="331.5" r="9.5" fill="url(#gPink)"/>
<path d="M466.7,401.4 l5.2,-0.7 M469.7,398.8 v4.6" stroke="#1a1a1e" stroke-width="2.7" stroke-linecap="round" opacity=".78" filter="url(#blur05)"/><path d="M470.5,382.0 L469.7,400.0" stroke="#242226" stroke-width="1.5" opacity=".9"/><path d="M467.9,388.4 h5.2" stroke="#8a8a8e" stroke-width="1.3"/><circle cx="470.5" cy="386.2" r="1.9" fill="#a81c1c"/><path d="M470.5,380.0 v3.4" stroke="#ffe8e8" stroke-width="1.4"/><circle cx="470.5" cy="377.0" r="9.5" fill="url(#gPink)"/>
<path d="M443.2,420.4 l5.2,-0.7 M446.2,417.8 v4.6" stroke="#1a1a1e" stroke-width="2.7" stroke-linecap="round" opacity=".78" filter="url(#blur05)"/><path d="M447.0,401.0 L446.2,419.0" stroke="#242226" stroke-width="1.5" opacity=".9"/><path d="M444.4,407.4 h5.2" stroke="#8a8a8e" stroke-width="1.3"/><circle cx="447.0" cy="405.2" r="1.9" fill="#a81c1c"/><path d="M447.0,399.0 v3.4" stroke="#ffe8e8" stroke-width="1.4"/><circle cx="447.0" cy="396.0" r="9.5" fill="url(#gPink)"/>
</g>
<text x="4.0" y="32.7" font-family='"Liberation Sans", sans-serif' font-size="40" fill="#000" font-weight="bold" textLength="47.0" lengthAdjust="spacingAndGlyphs">(a)</text>
<defs>
<radialGradient id="sphB" cx=".38" cy=".32" r=".7"><stop offset="0" stop-color="#a8a8ff"/><stop offset=".25" stop-color="#4040ff"/><stop offset=".6" stop-color="#1010f0"/><stop offset="1" stop-color="#0000b0"/></radialGradient>
<radialGradient id="sphR" cx=".38" cy=".32" r=".7"><stop offset="0" stop-color="#ffb0b0"/><stop offset=".25" stop-color="#ff4040"/><stop offset=".6" stop-color="#f01010"/><stop offset="1" stop-color="#b00000"/></radialGradient>
<linearGradient id="arrR" x1="0" y1="0" x2="1" y2="0"><stop offset="0" stop-color="#fbcaca"/><stop offset=".5" stop-color="#fdd6d6"/><stop offset="1" stop-color="#fee4e4"/></linearGradient>
<linearGradient id="arrB" x1="0" y1="0" x2="1" y2="0"><stop offset="0" stop-color="#cdcdf8"/><stop offset=".5" stop-color="#d8d8fa"/><stop offset="1" stop-color="#e2e2fc"/></linearGradient>
</defs>
<polygon points="81.0,541.0 132.3,505.6 132.3,520.0 463.5,520.0 463.5,562.5 132.3,562.5 132.3,578.0" fill="url(#arrR)"/>
<polygon points="83.4,674.4 125.3,629.8 128.4,643.0 458.6,576.8 467.6,615.4 139.0,686.0 140.2,700.6" fill="url(#arrB)"/>
<line x1="67.8" y1="572.5" x2="484.4" y2="572.5" stroke="#666" stroke-width="1" stroke-dasharray="2.5,2.5"/>
<rect x="67.8" y="424.2" width="416.6" height="296.6" fill="none" stroke="#222" stroke-width="1.4"/>
<line x1="61.8" y1="720.8" x2="67.8" y2="720.8" stroke="#222" stroke-width="1.3"/><text x="57.0" y="726.8" font-family='"Liberation Sans", sans-serif' font-size="17.3" fill="#111" text-anchor="end">0.0</text>
<line x1="61.8" y1="621.9" x2="67.8" y2="621.9" stroke="#222" stroke-width="1.3"/><text x="57.0" y="627.9" font-family='"Liberation Sans", sans-serif' font-size="17.3" fill="#111" text-anchor="end">0.2</text>
<line x1="61.8" y1="523.1" x2="67.8" y2="523.1" stroke="#222" stroke-width="1.3"/><text x="57.0" y="529.1" font-family='"Liberation Sans", sans-serif' font-size="17.3" fill="#111" text-anchor="end">0.4</text>
<line x1="61.8" y1="424.2" x2="67.8" y2="424.2" stroke="#222" stroke-width="1.3"/><text x="57.0" y="430.2" font-family='"Liberation Sans", sans-serif' font-size="17.3" fill="#111" text-anchor="end">0.6</text>
<line x1="155.2" y1="720.8" x2="155.2" y2="726.8" stroke="#222" stroke-width="1.3"/><text x="155.2" y="744.0" font-family='"Liberation Sans", sans-serif' font-size="16.5" fill="#111" text-anchor="middle">0.05</text>
<line x1="264.8" y1="720.8" x2="264.8" y2="726.8" stroke="#222" stroke-width="1.3"/><text x="264.8" y="744.0" font-family='"Liberation Sans", sans-serif' font-size="16.5" fill="#111" text-anchor="middle">0.10</text>
<line x1="374.4" y1="720.8" x2="374.4" y2="726.8" stroke="#222" stroke-width="1.3"/><text x="374.4" y="744.0" font-family='"Liberation Sans", sans-serif' font-size="16.5" fill="#111" text-anchor="middle">0.15</text>
<line x1="484.0" y1="720.8" x2="484.0" y2="726.8" stroke="#222" stroke-width="1.3"/><text x="484.0" y="744.0" font-family='"Liberation Sans", sans-serif' font-size="16.5" fill="#111" text-anchor="middle">0.20</text>
<text x="18.0" y="572.0" font-family='"Liberation Sans", sans-serif' font-size="19.5" fill="#111" text-anchor="middle" transform="rotate(-90 18.0 572.0)">FoM</text>
<text x="168.0" y="770.5" font-family='"Liberation Sans", sans-serif' font-size="18.3" fill="#111" textLength="181.5" lengthAdjust="spacingAndGlyphs">Surface Density (nm</text>
<text x="350.0" y="763.3" font-family='"Liberation Sans", sans-serif' font-size="12" fill="#111" textLength="13.5" lengthAdjust="spacingAndGlyphs">−2</text>
<text x="363.8" y="770.5" font-family='"Liberation Sans", sans-serif' font-size="18.3" fill="#111">)</text>
<line x1="85.7" y1="440.7" x2="117.5" y2="440.7" stroke="#1010ff" stroke-width="1.6"/><circle cx="101.8" cy="440.7" r="6.5" fill="url(#sphB)"/><line x1="85.7" y1="457.3" x2="117.5" y2="457.3" stroke="#ff1010" stroke-width="1.6"/><circle cx="101.8" cy="457.3" r="6.5" fill="url(#sphR)"/><text x="119.6" y="454.9" font-family='"Liberation Sans", sans-serif' font-size="17.5" fill="#111" textLength="66.6" lengthAdjust="spacingAndGlyphs">Average</text>
<path d="M219.6,437.5 L222.3,442.4 L216.9,442.4 Z" fill="none" stroke="#1010ff" stroke-width="1.1"/><path d="M219.6,453.8 L222.3,458.7 L216.9,458.7 Z" fill="none" stroke="#ff1010" stroke-width="1.1"/><text x="227.7" y="453.6" font-family='"Liberation Sans", sans-serif' font-size="17.5" fill="#111" textLength="70.0" lengthAdjust="spacingAndGlyphs">Samples</text>
<text x="155.2" y="511.5" font-family='"Liberation Sans", sans-serif' font-size="19.5" fill="#f01010" textLength="81.5" lengthAdjust="spacingAndGlyphs">Quantum</text>
<text x="304.2" y="677.0" font-family='"Liberation Sans", sans-serif' font-size="19.5" fill="#1010f0" textLength="79.0" lengthAdjust="spacingAndGlyphs" transform="rotate(-13.5 304.2 677.0)">Classical</text>
<path d="M109.3,620.0 L112.4,625.8 L106.2,625.8 Z" fill="none" stroke="#1414f0" stroke-width="1.1"/><path d="M109.3,622.6 L112.4,628.4 L106.2,628.4 Z" fill="none" stroke="#1414f0" stroke-width="1.1"/><path d="M109.3,630.4 L112.4,636.2 L106.2,636.2 Z" fill="none" stroke="#1414f0" stroke-width="1.1"/><path d="M109.3,660.1 L112.4,665.9 L106.2,665.9 Z" fill="none" stroke="#1414f0" stroke-width="1.1"/><path d="M109.3,678.9 L112.4,684.7 L106.2,684.7 Z" fill="none" stroke="#1414f0" stroke-width="1.1"/><path d="M109.3,681.0 L112.4,686.8 L106.2,686.8 Z" fill="none" stroke="#1414f0" stroke-width="1.1"/><path d="M109.3,688.1 L112.4,693.9 L106.2,693.9 Z" fill="none" stroke="#1414f0" stroke-width="1.1"/><path d="M109.3,691.2 L112.4,697.0 L106.2,697.0 Z" fill="none" stroke="#1414f0" stroke-width="1.1"/><path d="M109.3,694.7 L112.4,700.5 L106.2,700.5 Z" fill="none" stroke="#1414f0" stroke-width="1.1"/><path d="M172.9,605.0 L176.0,610.8 L169.8,610.8 Z" fill="none" stroke="#1414f0" stroke-width="1.1"/><path d="M172.9,625.2 L176.0,631.0 L169.8,631.0 Z" fill="none" stroke="#1414f0" stroke-width="1.1"/><path d="M172.9,628.6 L176.0,634.4 L169.8,634.4 Z" fill="none" stroke="#1414f0" stroke-width="1.1"/><path d="M172.9,641.7 L176.0,647.5 L169.8,647.5 Z" fill="none" stroke="#1414f0" stroke-width="1.1"/><path d="M172.9,658.5 L176.0,664.3 L169.8,664.3 Z" fill="none" stroke="#1414f0" stroke-width="1.1"/><path d="M172.9,671.1 L176.0,676.9 L169.8,676.9 Z" fill="none" stroke="#1414f0" stroke-width="1.1"/><path d="M172.9,677.6 L176.0,683.4 L169.8,683.4 Z" fill="none" stroke="#1414f0" stroke-width="1.1"/><path d="M172.9,684.7 L176.0,690.5 L169.8,690.5 Z" fill="none" stroke="#1414f0" stroke-width="1.1"/><path d="M172.9,688.1 L176.0,693.9 L169.8,693.9 Z" fill="none" stroke="#1414f0" stroke-width="1.1"/><path d="M172.9,692.0 L176.0,697.8 L169.8,697.8 Z" fill="none" stroke="#1414f0" stroke-width="1.1"/><path d="M172.9,534.1 L176.0,539.9 L169.8,539.9 Z" fill="none" stroke="#f01414" stroke-width="1.1"/><path d="M172.9,543.7 L176.0,549.5 L169.8,549.5 Z" fill="none" stroke="#f01414" stroke-width="1.1"/><path d="M172.9,546.2 L176.0,552.0 L169.8,552.0 Z" fill="none" stroke="#f01414" stroke-width="1.1"/><path d="M236.5,585.7 L239.6,591.5 L233.4,591.5 Z" fill="none" stroke="#1414f0" stroke-width="1.1"/><path d="M236.5,602.9 L239.6,608.7 L233.4,608.7 Z" fill="none" stroke="#1414f0" stroke-width="1.1"/><path d="M236.5,608.7 L239.6,614.5 L233.4,614.5 Z" fill="none" stroke="#1414f0" stroke-width="1.1"/><path d="M236.5,618.7 L239.6,624.5 L233.4,624.5 Z" fill="none" stroke="#1414f0" stroke-width="1.1"/><path d="M236.5,625.2 L239.6,631.0 L233.4,631.0 Z" fill="none" stroke="#1414f0" stroke-width="1.1"/><path d="M236.5,631.0 L239.6,636.8 L233.4,636.8 Z" fill="none" stroke="#1414f0" stroke-width="1.1"/><path d="M236.5,655.3 L239.6,661.1 L233.4,661.1 Z" fill="none" stroke="#1414f0" stroke-width="1.1"/><path d="M236.5,662.4 L239.6,668.2 L233.4,668.2 Z" fill="none" stroke="#1414f0" stroke-width="1.1"/><path d="M236.5,669.7 L239.6,675.5 L233.4,675.5 Z" fill="none" stroke="#1414f0" stroke-width="1.1"/><path d="M236.5,681.0 L239.6,686.8 L233.4,686.8 Z" fill="none" stroke="#1414f0" stroke-width="1.1"/><path d="M236.5,685.5 L239.6,691.3 L233.4,691.3 Z" fill="none" stroke="#1414f0" stroke-width="1.1"/><path d="M236.5,515.0 L239.6,520.8 L233.4,520.8 Z" fill="none" stroke="#f01414" stroke-width="1.1"/><path d="M236.5,536.7 L239.6,542.5 L233.4,542.5 Z" fill="none" stroke="#f01414" stroke-width="1.1"/><path d="M236.5,545.7 L239.6,551.5 L233.4,551.5 Z" fill="none" stroke="#f01414" stroke-width="1.1"/><path d="M236.5,548.1 L239.6,553.9 L233.4,553.9 Z" fill="none" stroke="#f01414" stroke-width="1.1"/><path d="M297.8,578.2 L300.9,584.0 L294.7,584.0 Z" fill="none" stroke="#1414f0" stroke-width="1.1"/><path d="M297.8,585.5 L300.9,591.3 L294.7,591.3 Z" fill="none" stroke="#1414f0" stroke-width="1.1"/><path d="M297.8,589.7 L300.9,595.5 L294.7,595.5 Z" fill="none" stroke="#1414f0" stroke-width="1.1"/><path d="M297.8,604.2 L300.9,610.0 L294.7,610.0 Z" fill="none" stroke="#1414f0" stroke-width="1.1"/><path d="M297.8,609.5 L300.9,615.3 L294.7,615.3 Z" fill="none" stroke="#1414f0" stroke-width="1.1"/><path d="M297.8,612.7 L300.9,618.5 L294.7,618.5 Z" fill="none" stroke="#1414f0" stroke-width="1.1"/><path d="M297.8,626.5 L300.9,632.3 L294.7,632.3 Z" fill="none" stroke="#1414f0" stroke-width="1.1"/><path d="M297.8,628.7 L300.9,634.5 L294.7,634.5 Z" fill="none" stroke="#1414f0" stroke-width="1.1"/><path d="M297.8,639.7 L300.9,645.5 L294.7,645.5 Z" fill="none" stroke="#1414f0" stroke-width="1.1"/><path d="M297.8,643.5 L300.9,649.3 L294.7,649.3 Z" fill="none" stroke="#1414f0" stroke-width="1.1"/><path d="M297.8,675.0 L300.9,680.8 L294.7,680.8 Z" fill="none" stroke="#1414f0" stroke-width="1.1"/><path d="M297.8,682.9 L300.9,688.7 L294.7,688.7 Z" fill="none" stroke="#1414f0" stroke-width="1.1"/><path d="M297.8,515.7 L300.9,521.5 L294.7,521.5 Z" fill="none" stroke="#f01414" stroke-width="1.1"/><path d="M297.8,522.1 L300.9,527.9 L294.7,527.9 Z" fill="none" stroke="#f01414" stroke-width="1.1"/><path d="M297.8,543.0 L300.9,548.8 L294.7,548.8 Z" fill="none" stroke="#f01414" stroke-width="1.1"/><path d="M297.8,547.3 L300.9,553.1 L294.7,553.1 Z" fill="none" stroke="#f01414" stroke-width="1.1"/><path d="M297.8,551.2 L300.9,557.0 L294.7,557.0 Z" fill="none" stroke="#f01414" stroke-width="1.1"/><path d="M361.4,573.5 L364.5,579.3 L358.3,579.3 Z" fill="none" stroke="#1414f0" stroke-width="1.1"/><path d="M361.4,579.4 L364.5,585.2 L358.3,585.2 Z" fill="none" stroke="#1414f0" stroke-width="1.1"/><path d="M361.4,582.7 L364.5,588.5 L358.3,588.5 Z" fill="none" stroke="#1414f0" stroke-width="1.1"/><path d="M361.4,586.3 L364.5,592.1 L358.3,592.1 Z" fill="none" stroke="#1414f0" stroke-width="1.1"/><path d="M361.4,598.5 L364.5,604.3 L358.3,604.3 Z" fill="none" stroke="#1414f0" stroke-width="1.1"/><path d="M361.4,618.7 L364.5,624.5 L358.3,624.5 Z" fill="none" stroke="#1414f0" stroke-width="1.1"/><path d="M361.4,622.6 L364.5,628.4 L358.3,628.4 Z" fill="none" stroke="#1414f0" stroke-width="1.1"/><path d="M361.4,627.7 L364.5,633.5 L358.3,633.5 Z" fill="none" stroke="#1414f0" stroke-width="1.1"/><path d="M361.4,631.7 L364.5,637.5 L358.3,637.5 Z" fill="none" stroke="#1414f0" stroke-width="1.1"/><path d="M361.4,671.6 L364.5,677.4 L358.3,677.4 Z" fill="none" stroke="#1414f0" stroke-width="1.1"/><path d="M361.4,499.7 L364.5,505.5 L358.3,505.5 Z" fill="none" stroke="#f01414" stroke-width="1.1"/><path d="M361.4,518.7 L364.5,524.5 L358.3,524.5 Z" fill="none" stroke="#f01414" stroke-width="1.1"/><path d="M361.4,543.7 L364.5,549.5 L358.3,549.5 Z" fill="none" stroke="#f01414" stroke-width="1.1"/><path d="M361.4,549.4 L364.5,555.2 L358.3,555.2 Z" fill="none" stroke="#f01414" stroke-width="1.1"/><path d="M361.4,552.4 L364.5,558.2 L358.3,558.2 Z" fill="none" stroke="#f01414" stroke-width="1.1"/><path d="M361.4,555.7 L364.5,561.5 L358.3,561.5 Z" fill="none" stroke="#f01414" stroke-width="1.1"/><path d="M425.0,574.7 L428.1,580.5 L421.9,580.5 Z" fill="none" stroke="#1414f0" stroke-width="1.1"/><path d="M425.0,579.7 L428.1,585.5 L421.9,585.5 Z" fill="none" stroke="#1414f0" stroke-width="1.1"/><path d="M425.0,584.7 L428.1,590.5 L421.9,590.5 Z" fill="none" stroke="#1414f0" stroke-width="1.1"/><path d="M425.0,588.7 L428.1,594.5 L421.9,594.5 Z" fill="none" stroke="#1414f0" stroke-width="1.1"/><path d="M425.0,608.7 L428.1,614.5 L421.9,614.5 Z" fill="none" stroke="#1414f0" stroke-width="1.1"/><path d="M425.0,615.7 L428.1,621.5 L421.9,621.5 Z" fill="none" stroke="#1414f0" stroke-width="1.1"/><path d="M425.0,619.7 L428.1,625.5 L421.9,625.5 Z" fill="none" stroke="#1414f0" stroke-width="1.1"/><path d="M425.0,626.5 L428.1,632.3 L421.9,632.3 Z" fill="none" stroke="#1414f0" stroke-width="1.1"/><path d="M425.0,657.4 L428.1,663.2 L421.9,663.2 Z" fill="none" stroke="#1414f0" stroke-width="1.1"/><path d="M425.0,486.3 L428.1,492.1 L421.9,492.1 Z" fill="none" stroke="#f01414" stroke-width="1.1"/><path d="M425.0,500.5 L428.1,506.3 L421.9,506.3 Z" fill="none" stroke="#f01414" stroke-width="1.1"/><path d="M425.0,518.3 L428.1,524.1 L421.9,524.1 Z" fill="none" stroke="#f01414" stroke-width="1.1"/><path d="M425.0,522.1 L428.1,527.9 L421.9,527.9 Z" fill="none" stroke="#f01414" stroke-width="1.1"/><path d="M425.0,527.7 L428.1,533.5 L421.9,533.5 Z" fill="none" stroke="#f01414" stroke-width="1.1"/><path d="M425.0,541.7 L428.1,547.5 L421.9,547.5 Z" fill="none" stroke="#f01414" stroke-width="1.1"/><path d="M425.0,544.7 L428.1,550.5 L421.9,550.5 Z" fill="none" stroke="#f01414" stroke-width="1.1"/><path d="M425.0,553.2 L428.1,559.0 L421.9,559.0 Z" fill="none" stroke="#f01414" stroke-width="1.1"/><path d="M425.0,562.1 L428.1,567.9 L421.9,567.9 Z" fill="none" stroke="#f01414" stroke-width="1.1"/>
<polyline points="109.3,544.6 172.9,544.6 236.5,542.6 297.8,539.2 361.4,540.0 425.0,540.0" fill="none" stroke="#ff1010" stroke-width="2.5"/><circle cx="109.3" cy="544.6" r="7" fill="url(#sphR)"/><circle cx="172.9" cy="544.6" r="7" fill="url(#sphR)"/><circle cx="236.5" cy="542.6" r="7" fill="url(#sphR)"/><circle cx="297.8" cy="539.2" r="7" fill="url(#sphR)"/><circle cx="361.4" cy="540" r="7" fill="url(#sphR)"/><circle cx="425.0" cy="540" r="7" fill="url(#sphR)"/><polyline points="109.3,675.0 172.9,667.8 236.5,646.0 297.8,621.2 361.4,614.0 425.0,608.8" fill="none" stroke="#1010ff" stroke-width="2.5"/><circle cx="109.3" cy="675" r="7" fill="url(#sphB)"/><circle cx="172.9" cy="667.8" r="7" fill="url(#sphB)"/><circle cx="236.5" cy="646" r="7" fill="url(#sphB)"/><circle cx="297.8" cy="621.2" r="7" fill="url(#sphB)"/><circle cx="361.4" cy="614" r="7" fill="url(#sphB)"/><circle cx="425.0" cy="608.8" r="7" fill="url(#sphB)"/>
<text x="576.5" y="32.7" font-family='"Liberation Sans", sans-serif' font-size="40" fill="#000" font-weight="bold" textLength="50.0" lengthAdjust="spacingAndGlyphs">(b)</text>
<defs>
<linearGradient id="rodG" x1="0" y1="0" x2="1" y2="0"><stop offset="0" stop-color="#d2d3d2"/><stop offset=".07" stop-color="#b6b8b6"/><stop offset=".2" stop-color="#a7a9a7"/><stop offset=".4" stop-color="#bfc1bf"/><stop offset=".55" stop-color="#dadbda"/><stop offset=".68" stop-color="#ffffff"/><stop offset=".8" stop-color="#f6f6f6"/><stop offset=".9" stop-color="#cfd0cf"/><stop offset="1" stop-color="#e2e2e2"/></linearGradient>
<linearGradient id="rodV" x1="0" y1="0" x2="0" y2="1"><stop offset="0" stop-color="#fff" stop-opacity=".55"/><stop offset=".15" stop-color="#fff" stop-opacity="0"/><stop offset=".85" stop-color="#fff" stop-opacity="0"/><stop offset="1" stop-color="#fff" stop-opacity=".75"/></linearGradient>
<linearGradient id="wireG" gradientUnits="userSpaceOnUse" x1="864" y1="247" x2="871" y2="293"><stop offset="0" stop-color="#a8aaa8"/><stop offset=".08" stop-color="#c0c2c0"/><stop offset=".25" stop-color="#fafafa"/><stop offset=".48" stop-color="#f0f0f0"/><stop offset=".68" stop-color="#d4d5d4"/><stop offset=".88" stop-color="#aaacaa"/><stop offset="1" stop-color="#c6c6c6"/></linearGradient>
<radialGradient id="heatBg" gradientUnits="userSpaceOnUse" cx="1038.5" cy="116" r="52" gradientTransform="translate(1038.5 116) scale(.62 1) translate(-1038.5 -116)"><stop offset="0" stop-color="#ff3a10"/><stop offset=".45" stop-color="#f02810"/><stop offset=".75" stop-color="#b81208"/><stop offset="1" stop-color="#6a0806"/></radialGradient>
<linearGradient id="heatRod" x1="0" y1="0" x2="0" y2="1"><stop offset="0" stop-color="#4a0810"/><stop offset=".25" stop-color="#620a10"/><stop offset=".45" stop-color="#c41710"/><stop offset=".58" stop-color="#d21a10"/><stop offset=".78" stop-color="#7a0c10"/><stop offset="1" stop-color="#5a0a10"/></linearGradient>
<filter id="hb3" x="-60%" y="-40%" width="220%" height="180%"><feGaussianBlur stdDeviation="6"/></filter>
<filter id="hb1" x="-40%" y="-20%" width="180%" height="140%"><feGaussianBlur stdDeviation="2.2"/></filter>
<filter id="hb2" x="-40%" y="-20%" width="180%" height="140%"><feGaussianBlur stdDeviation="1"/></filter>
<clipPath id="heatClip"><rect x="1011.5" y="71" width="54" height="88"/></clipPath>
</defs>
<path d="M666,70 l3,-1.6" stroke="#222" stroke-width="1.2"/>
<text x="677.5" y="156.5" font-family='"Liberation Serif", serif' font-size="30" fill="#1a1a1a" font-weight="bold" font-style="italic">ε</text>
<text x="692.3" y="162.8" font-family='"Liberation Serif", serif' font-size="23" fill="#1a1a1a" font-weight="bold" font-style="italic">b</text>
<g clip-path="url(#heatClip)"><rect x="1011.5" y="71" width="54" height="88" fill="#420606"/><ellipse cx="1039" cy="114" rx="21" ry="44" fill="#e21c10" filter="url(#hb3)"/><circle cx="1039.2" cy="95" r="12.5" fill="#ff8a10" filter="url(#hb1)"/><circle cx="1039.2" cy="136" r="13" fill="#ff9a14" filter="url(#hb1)"/><path d="M1028.6,97 V94.6 A10.6,10.6 0 0 1 1049.8,94.6 V97" fill="none" stroke="#ffe23a" stroke-width="2.6" filter="url(#hb2)"/><path d="M1028.4,132 V135 A10.8,10.8 0 0 0 1050,135 V132" fill="none" stroke="#fff26a" stroke-width="3.4" filter="url(#hb2)"/><ellipse cx="1039.2" cy="147" rx="9" ry="3" fill="#fffbe0" filter="url(#hb2)"/><rect x="1029.4" y="84.5" width="19.6" height="61" rx="9.8" fill="url(#heatRod)"/><rect x="1011.5" y="147.8" width="54" height="11.2" fill="#0a0a0a"/></g><text x="1038.2" y="156.4" font-family='"Liberation Sans", sans-serif' font-size="8.6" fill="#f4f4f4" text-anchor="middle" font-weight="bold" textLength="38.4" lengthAdjust="spacingAndGlyphs">nanowire</text>
<path d="M719.2,269.2 L1001,227.7 C1012,226.5 1018.5,240 1017.6,254 C1017,263 1013,268.5 1009,269.2 L724.3,316.4 Z" fill="url(#wireG)"/><ellipse cx="721.6" cy="292.5" rx="9.6" ry="24.2" fill="#a9aba9" transform="rotate(-7 721.6 292.5)"/><path d="M826,262 L862,254.5 L846,260.5 Z" fill="#fff" opacity=".95"/><path d="M852,256.2 L866,252.2 L866,254 Z" fill="#8a8c8a"/><path d="M864,252.6 l6,-1.2" stroke="#1a8a70" stroke-width="1.6"/>
<rect x="855.6" y="141.3" width="32.2" height="80.6" rx="16.1" fill="url(#rodG)"/><clipPath id="rodClip"><rect x="855.6" y="141.3" width="32.2" height="80.6" rx="16.1"/></clipPath><g clip-path="url(#rodClip)"><ellipse cx="868" cy="150.5" rx="9" ry="6.5" fill="#fff" opacity=".95" filter="url(#hb1)" transform="rotate(-25 868 150.5)"/><path d="M857,150 C859,143 866,141.5 872,141.5 C880,141.5 886,146 887.5,153" fill="none" stroke="#9c9e9c" stroke-width="1.6" filter="url(#hb2)"/><ellipse cx="875" cy="216" rx="9.5" ry="4" fill="#fff" opacity=".95" filter="url(#hb2)"/><path d="M857,204 C858,216 865,222 873,222 C881,222 886.5,217 887.5,208" fill="none" stroke="#8e908e" stroke-width="2" filter="url(#hb2)"/></g>
<line x1="856.4" y1="112" x2="856.4" y2="145" stroke="#a9a9a9" stroke-width="1"/><line x1="887" y1="112" x2="887" y2="145" stroke="#a9a9a9" stroke-width="1"/><line x1="856.4" y1="128.7" x2="887.0" y2="128.7" stroke="#a8a8a8" stroke-width="1"/><polygon points="856.4,128.7 860.2,130.1 860.2,127.3" fill="#a8a8a8"/><polygon points="887.0,128.7 883.2,127.3 883.2,130.1" fill="#a8a8a8"/><text x="863.0" y="124.3" font-family='"Liberation Sans", sans-serif' font-size="21" fill="#1a1a1a" font-weight="bold">2</text>
<text x="875.2" y="124.3" font-family='"Liberation Sans", sans-serif' font-size="21" fill="#1a1a1a" font-weight="bold" font-style="italic">r</text>
<line x1="828" y1="154.2" x2="847" y2="154.2" stroke="#a9a9a9" stroke-width="1"/><line x1="828" y1="208" x2="847" y2="208" stroke="#a9a9a9" stroke-width="1"/><line x1="838.0" y1="154.2" x2="838.0" y2="208.0" stroke="#a8a8a8" stroke-width="1"/><polygon points="838.0,154.2 836.6,158.0 839.4,158.0" fill="#a8a8a8"/><polygon points="838.0,208.0 839.4,204.2 836.6,204.2" fill="#a8a8a8"/><text x="823.6" y="189.8" font-family='"Liberation Sans", sans-serif' font-size="21" fill="#1a1a1a" font-weight="bold" font-style="italic">a</text>
<line x1="880" y1="220.6" x2="911" y2="217" stroke="#a9a9a9" stroke-width="1"/><line x1="883.6" y1="242" x2="916" y2="238.8" stroke="#a9a9a9" stroke-width="1"/><line x1="895.0" y1="219.0" x2="898.0" y2="240.5" stroke="#a8a8a8" stroke-width="1"/><polygon points="895.0,219.0 894.2,222.9 896.9,222.5" fill="#a8a8a8"/><polygon points="898.0,240.5 898.8,236.6 896.1,237.0" fill="#a8a8a8"/><text x="914.0" y="233.0" font-family='"Liberation Sans", sans-serif' font-size="21" fill="#1a1a1a" font-weight="bold" font-style="italic">d</text>
<line x1="689" y1="267.8" x2="712" y2="267.8" stroke="#a9a9a9" stroke-width="1"/><line x1="689" y1="316" x2="712" y2="316" stroke="#a9a9a9" stroke-width="1"/><line x1="700.2" y1="267.8" x2="700.2" y2="316.0" stroke="#a8a8a8" stroke-width="1"/><polygon points="700.2,267.8 698.8,271.6 701.6,271.6" fill="#a8a8a8"/><polygon points="700.2,316.0 701.6,312.2 698.8,312.2" fill="#a8a8a8"/><text x="664.6" y="300.0" font-family='"Liberation Sans", sans-serif' font-size="21" fill="#1a1a1a" font-weight="bold">2</text>
<text x="676.6" y="300.0" font-family='"Liberation Sans", sans-serif' font-size="21" fill="#1a1a1a" font-weight="bold" font-style="italic">R</text>
<text x="903.0" y="179.6" font-family='"Liberation Sans", sans-serif' font-size="22.3" fill="#1a1a1a" font-weight="bold" textLength="125.0" lengthAdjust="spacingAndGlyphs">Ag nanorod</text>
<text x="889.3" y="305.5" font-family='"Liberation Sans", sans-serif' font-size="22.3" fill="#1a1a1a" font-weight="bold" textLength="131.2" lengthAdjust="spacingAndGlyphs">Ag nanowire</text>
<text x="801.0" y="238.2" font-family='"Liberation Sans", sans-serif' font-size="18.5" fill="#5e8f3a" font-weight="bold" textLength="62.0" lengthAdjust="spacingAndGlyphs">emitter</text>
<circle cx="871.8" cy="231.8" r="3" fill="#1d9a5c"/>
<line x1="704.3" y1="429.2" x2="704.3" y2="433.7" stroke="#0a0a0a" stroke-width="1.6"/><line x1="704.3" y1="711.5" x2="704.3" y2="718.0" stroke="#0a0a0a" stroke-width="1.6"/><line x1="744.3" y1="711.5" x2="744.3" y2="715.0" stroke="#0a0a0a" stroke-width="1.6"/><line x1="784.4" y1="429.2" x2="784.4" y2="433.7" stroke="#0a0a0a" stroke-width="1.6"/><line x1="784.4" y1="711.5" x2="784.4" y2="718.0" stroke="#0a0a0a" stroke-width="1.6"/><line x1="824.4" y1="711.5" x2="824.4" y2="715.0" stroke="#0a0a0a" stroke-width="1.6"/><line x1="864.4" y1="429.2" x2="864.4" y2="433.7" stroke="#0a0a0a" stroke-width="1.6"/><line x1="864.4" y1="711.5" x2="864.4" y2="718.0" stroke="#0a0a0a" stroke-width="1.6"/><line x1="904.4" y1="711.5" x2="904.4" y2="715.0" stroke="#0a0a0a" stroke-width="1.6"/><line x1="944.5" y1="429.2" x2="944.5" y2="433.7" stroke="#0a0a0a" stroke-width="1.6"/><line x1="944.5" y1="711.5" x2="944.5" y2="718.0" stroke="#0a0a0a" stroke-width="1.6"/><line x1="984.5" y1="711.5" x2="984.5" y2="715.0" stroke="#0a0a0a" stroke-width="1.6"/><line x1="1024.5" y1="429.2" x2="1024.5" y2="433.7" stroke="#0a0a0a" stroke-width="1.6"/><line x1="1024.5" y1="711.5" x2="1024.5" y2="718.0" stroke="#0a0a0a" stroke-width="1.6"/><line x1="1064.5" y1="711.5" x2="1064.5" y2="715.0" stroke="#0a0a0a" stroke-width="1.6"/><line x1="670" y1="689.2" x2="677" y2="689.2" stroke="#0a0a0a" stroke-width="1.6"/><line x1="1072.5" y1="689.2" x2="1078.5" y2="689.2" stroke="#0a0a0a" stroke-width="1.6"/><line x1="673" y1="637.1" x2="677" y2="637.1" stroke="#0a0a0a" stroke-width="1.6"/><line x1="1075.0" y1="637.1" x2="1078.5" y2="637.1" stroke="#0a0a0a" stroke-width="1.6"/><line x1="670" y1="585.0" x2="677" y2="585.0" stroke="#0a0a0a" stroke-width="1.6"/><line x1="1072.5" y1="585.0" x2="1078.5" y2="585.0" stroke="#0a0a0a" stroke-width="1.6"/><line x1="673" y1="532.9" x2="677" y2="532.9" stroke="#0a0a0a" stroke-width="1.6"/><line x1="1075.0" y1="532.9" x2="1078.5" y2="532.9" stroke="#0a0a0a" stroke-width="1.6"/><line x1="670" y1="480.8" x2="677" y2="480.8" stroke="#0a0a0a" stroke-width="1.6"/><line x1="1072.5" y1="480.8" x2="1078.5" y2="480.8" stroke="#0a0a0a" stroke-width="1.6"/><line x1="673" y1="710.5" x2="677" y2="710.5" stroke="#0a0a0a" stroke-width="1.6"/>
<polyline points="704.3,585.0 731.0,584.2 757.7,582.3 784.4,588.4 811.0,588.4 837.7,588.4 891.1,563.6 917.8,575.6 944.5,579.6 971.1,576.2 997.8,578.3 1024.5,579.6" fill="none" stroke="#0a0a0a" stroke-width="2.8" stroke-linejoin="round"/><polyline points="704.3,665.2 731.0,668.3 757.7,671.6 784.4,676.0 811.0,680.4 837.7,685.4 891.1,688.8 917.8,685.9 944.5,682.4 971.1,679.0 997.8,676.5 1024.5,676.5" fill="none" stroke="#0a8a14" stroke-width="3.6" stroke-linejoin="round"/><circle cx="704.3" cy="665.2" r="3.4" fill="#0a8a14"/><circle cx="731.0" cy="668.3" r="3.4" fill="#0a8a14"/><circle cx="757.7" cy="671.6" r="3.4" fill="#0a8a14"/><circle cx="784.4" cy="676.0" r="3.4" fill="#0a8a14"/><circle cx="811.0" cy="680.4" r="3.4" fill="#0a8a14"/><circle cx="837.7" cy="685.4" r="3.4" fill="#0a8a14"/><circle cx="891.1" cy="688.8" r="3.4" fill="#0a8a14"/><circle cx="917.8" cy="685.9" r="3.4" fill="#0a8a14"/><circle cx="944.5" cy="682.4" r="3.4" fill="#0a8a14"/><circle cx="971.1" cy="679.0" r="3.4" fill="#0a8a14"/><circle cx="997.8" cy="676.5" r="3.4" fill="#0a8a14"/><circle cx="1024.5" cy="676.5" r="3.4" fill="#0a8a14"/><polyline points="704.3,637.2 731.0,642.6 757.7,651.0 784.4,659.8 811.0,668.7 837.7,680.0 891.1,676.5 917.8,669.2 944.5,660.3 971.1,653.5 997.8,647.0 1024.5,648.0" fill="none" stroke="#ff1414" stroke-width="3.6" stroke-linejoin="round"/><polygon points="704.3,633.0 708.1,639.8 700.5,639.8" fill="#ff1414"/><polygon points="731.0,638.4 734.8,645.2 727.2,645.2" fill="#ff1414"/><polygon points="757.7,646.8 761.5,653.6 753.9,653.6" fill="#ff1414"/><polygon points="784.4,655.6 788.2,662.4 780.6,662.4" fill="#ff1414"/><polygon points="811.0,664.5 814.8,671.3 807.2,671.3" fill="#ff1414"/><polygon points="837.7,675.8 841.5,682.6 833.9,682.6" fill="#ff1414"/><polygon points="891.1,672.3 894.9,679.1 887.3,679.1" fill="#ff1414"/><polygon points="917.8,665.0 921.6,671.8 914.0,671.8" fill="#ff1414"/><polygon points="944.5,656.1 948.3,662.9 940.7,662.9" fill="#ff1414"/><polygon points="971.1,649.3 974.9,656.1 967.3,656.1" fill="#ff1414"/><polygon points="997.8,642.8 1001.6,649.6 994.0,649.6" fill="#ff1414"/><polygon points="1024.5,643.8 1028.3,650.6 1020.7,650.6" fill="#ff1414"/><polyline points="704.3,577.0 731.0,586.9 757.7,604.5 784.4,624.5 811.0,644.6 837.7,670.0 891.1,653.5 917.8,636.3 944.5,615.0 971.1,601.4 997.8,589.6 1024.5,588.6" fill="none" stroke="#1414ff" stroke-width="3.6" stroke-linejoin="round"/><polygon points="704.3,581.2 708.1,574.4 700.5,574.4" fill="#1414ff"/><polygon points="731.0,591.1 734.8,584.3 727.2,584.3" fill="#1414ff"/><polygon points="757.7,608.7 761.5,601.9 753.9,601.9" fill="#1414ff"/><polygon points="784.4,628.7 788.2,621.9 780.6,621.9" fill="#1414ff"/><polygon points="811.0,648.8 814.8,642.0 807.2,642.0" fill="#1414ff"/><polygon points="837.7,674.2 841.5,667.4 833.9,667.4" fill="#1414ff"/><polygon points="891.1,657.7 894.9,650.9 887.3,650.9" fill="#1414ff"/><polygon points="917.8,640.5 921.6,633.7 914.0,633.7" fill="#1414ff"/><polygon points="944.5,619.2 948.3,612.4 940.7,612.4" fill="#1414ff"/><polygon points="971.1,605.6 974.9,598.8 967.3,598.8" fill="#1414ff"/><polygon points="997.8,593.8 1001.6,587.0 994.0,587.0" fill="#1414ff"/><polygon points="1024.5,592.8 1028.3,586.0 1020.7,586.0" fill="#1414ff"/><polyline points="704.3,460.8 731.0,480.0 757.7,512.9 784.4,553.5 811.0,597.8 837.7,653.0 891.1,610.2 917.8,571.7 944.5,530.2 971.1,502.2 997.8,480.0 1024.5,476.8" fill="none" stroke="#ff14e6" stroke-width="3.6" stroke-linejoin="round"/><polygon points="700.1,460.8 706.9,457.0 706.9,464.6" fill="#ff14e6"/><polygon points="726.8,480.0 733.6,476.2 733.6,483.8" fill="#ff14e6"/><polygon points="753.5,512.9 760.3,509.1 760.3,516.7" fill="#ff14e6"/><polygon points="780.2,553.5 787.0,549.7 787.0,557.3" fill="#ff14e6"/><polygon points="806.8,597.8 813.6,594.0 813.6,601.6" fill="#ff14e6"/><polygon points="833.5,653.0 840.3,649.2 840.3,656.8" fill="#ff14e6"/><polygon points="886.9,610.2 893.7,606.4 893.7,614.0" fill="#ff14e6"/><polygon points="913.6,571.7 920.4,567.9 920.4,575.5" fill="#ff14e6"/><polygon points="940.3,530.2 947.1,526.4 947.1,534.0" fill="#ff14e6"/><polygon points="966.9,502.2 973.7,498.4 973.7,506.0" fill="#ff14e6"/><polygon points="993.6,480.0 1000.4,476.2 1000.4,483.8" fill="#ff14e6"/><polygon points="1020.3,476.8 1027.1,473.0 1027.1,480.6" fill="#ff14e6"/>
<rect x="677" y="429.2" width="401.5" height="282.3" fill="none" stroke="#0a0a0a" stroke-width="2.2"/>
<text x="704.3" y="738.8" font-family='"Liberation Sans", sans-serif' font-size="22.5" fill="#111" text-anchor="middle" font-weight="bold" textLength="58.0" lengthAdjust="spacingAndGlyphs">2.100</text>
<text x="784.4" y="738.8" font-family='"Liberation Sans", sans-serif' font-size="22.5" fill="#111" text-anchor="middle" font-weight="bold" textLength="58.0" lengthAdjust="spacingAndGlyphs">2.115</text>
<text x="864.4" y="738.8" font-family='"Liberation Sans", sans-serif' font-size="22.5" fill="#111" text-anchor="middle" font-weight="bold" textLength="58.0" lengthAdjust="spacingAndGlyphs">2.130</text>
<text x="944.5" y="738.8" font-family='"Liberation Sans", sans-serif' font-size="22.5" fill="#111" text-anchor="middle" font-weight="bold" textLength="58.0" lengthAdjust="spacingAndGlyphs">2.145</text>
<text x="1024.5" y="738.8" font-family='"Liberation Sans", sans-serif' font-size="22.5" fill="#111" text-anchor="middle" font-weight="bold" textLength="58.0" lengthAdjust="spacingAndGlyphs">2.160</text>
<text x="666.5" y="697.0" font-family='"Liberation Sans", sans-serif' font-size="22.5" fill="#111" text-anchor="end" font-weight="bold" textLength="12.7" lengthAdjust="spacingAndGlyphs">0</text>
<text x="666.5" y="592.8" font-family='"Liberation Sans", sans-serif' font-size="22.5" fill="#111" text-anchor="end" font-weight="bold" textLength="50.8" lengthAdjust="spacingAndGlyphs">1000</text>
<text x="666.5" y="488.6" font-family='"Liberation Sans", sans-serif' font-size="22.5" fill="#111" text-anchor="end" font-weight="bold" textLength="50.8" lengthAdjust="spacingAndGlyphs">2000</text>
<text x="600.8" y="568.7" font-family='"Liberation Sans", sans-serif' font-size="30" fill="#111" text-anchor="middle" font-weight="bold" textLength="110.0" lengthAdjust="spacingAndGlyphs" transform="rotate(-90 600.8 568.7)">S (meV)</text>
<text x="866.0" y="771.0" font-family='"Liberation Serif", serif' font-size="35" fill="#111" font-weight="bold" font-style="italic" textLength="19.0" lengthAdjust="spacingAndGlyphs">ε</text>
<text x="884.0" y="779.5" font-family='"Liberation Sans", sans-serif' font-size="27" fill="#111" font-weight="bold" font-style="italic">b</text>
<text x="781.6" y="455.2" font-family='"Liberation Sans", sans-serif' font-size="22.5" fill="#111" font-weight="bold" textLength="90.6" lengthAdjust="spacingAndGlyphs"><tspan font-style="italic">r</tspan> = 5 nm</text>
<text x="777.8" y="481.0" font-family='"Liberation Sans", sans-serif' font-size="22.5" fill="#111" font-weight="bold" textLength="127.0" lengthAdjust="spacingAndGlyphs"><tspan font-style="italic">a</tspan> = 24.5 nm</text>
<text x="777.4" y="509.0" font-family='"Liberation Sans", sans-serif' font-size="22.5" fill="#111" font-weight="bold" textLength="94.8" lengthAdjust="spacingAndGlyphs"><tspan font-style="italic">d</tspan> = 2 nm</text>
<text x="948.4" y="472.8" font-family='"Liberation Serif", serif' font-size="24" fill="#ff14e6" font-weight="bold" font-style="italic" textLength="14.5" lengthAdjust="spacingAndGlyphs">μ</text>
<text x="968.9" y="472.8" font-family='"Liberation Sans", sans-serif' font-size="20" fill="#ff14e6" font-weight="bold" textLength="99.7" lengthAdjust="spacingAndGlyphs">=0.5 enm</text>
<text x="947.6" y="625.6" font-family='"Liberation Serif", serif' font-size="24" fill="#1414ff" font-weight="bold" font-style="italic" textLength="14.5" lengthAdjust="spacingAndGlyphs">μ</text>
<text x="968.1" y="625.6" font-family='"Liberation Sans", sans-serif' font-size="20" fill="#1414ff" font-weight="bold" textLength="99.8" lengthAdjust="spacingAndGlyphs">=0.4 enm</text>
<text x="952.4" y="670.5" font-family='"Liberation Serif", serif' font-size="24" fill="#ff1414" font-weight="bold" font-style="italic" textLength="14.5" lengthAdjust="spacingAndGlyphs">μ</text>
<text x="972.9" y="670.5" font-family='"Liberation Sans", sans-serif' font-size="20" fill="#ff1414" font-weight="bold" textLength="100.1" lengthAdjust="spacingAndGlyphs">=0.3 enm</text>
<text x="949.5" y="701.3" font-family='"Liberation Serif", serif' font-size="24" fill="#0a8a14" font-weight="bold" font-style="italic" textLength="14.5" lengthAdjust="spacingAndGlyphs">μ</text>
<text x="970.0" y="701.3" font-family='"Liberation Sans", sans-serif' font-size="20" fill="#0a8a14" font-weight="bold" textLength="101.4" lengthAdjust="spacingAndGlyphs">=0.2 enm</text>
<text x="946.7" y="555.6" font-family='"Liberation Sans", sans-serif' font-size="20.5" fill="#111" font-weight="bold" textLength="113.0" lengthAdjust="spacingAndGlyphs">traditional</text>
<text x="958.2" y="571.6" font-family='"Liberation Sans", sans-serif' font-size="20.5" fill="#111" font-weight="bold" textLength="87.7" lengthAdjust="spacingAndGlyphs">sensing</text>
<text x="1206.5" y="32.7" font-family='"Liberation Sans", sans-serif' font-size="40" fill="#000" font-weight="bold" textLength="48.0" lengthAdjust="spacingAndGlyphs">(c)</text>
<path d="M1260.3,87.8 C1236,88.5 1224.5,100 1222.4,128 C1218.5,180 1226,226 1238.7,259.7 C1247,282 1255,305.5 1265,304.5 C1274,303.5 1276.5,275 1275.3,253 C1274.3,234 1271.5,217.5 1264.5,217.2 C1256.5,217 1246,240 1238.7,259.7 C1229,286 1221.5,314 1220.4,345 C1219.4,375 1222,398 1230,413 C1236.5,425 1247,429.2 1260.2,429.2" fill="none" stroke="#f79a0a" stroke-width="2"/>
<circle cx="1884.3" cy="429" r="65.6" fill="#e7e7e7" stroke="#1a1a1a" stroke-width="1.2"/><line x1="1260" y1="87.8" x2="1326" y2="87.8" stroke="#45148c" stroke-width="1.8"/><path d="M1290.3,61.8 Q1303.2,87.8 1290.3,113.8 Q1277.4,87.8 1290.3,61.8 Z" fill="#47a6f2" stroke="#1a1a1a" stroke-width="1.2"/><rect x="1325.4" y="58" width="251.2" height="56.5" rx="14.5" fill="#b9b9b9" stroke="#1a1a1a" stroke-width="1.2"/><text x="1350.0" y="93.8" font-family='"Liberation Sans", sans-serif' font-size="24" fill="#161616" textLength="202.4" lengthAdjust="spacingAndGlyphs">401.5 nm CW laser</text>
<text x="1277.6" y="129.8" font-family='"Liberation Sans", sans-serif' font-size="16.5" fill="#1a1a1a">Lens</text>
<text x="1233.0" y="197.2" font-family='"Liberation Sans", sans-serif' font-size="16.5" fill="#1a1a1a">SMF</text>
<line x1="1260" y1="429.2" x2="1652" y2="429.2" stroke="#45148c" stroke-width="1.8"/><line x1="1652" y1="429.2" x2="1884" y2="429.2" stroke="#d0202c" stroke-width="2"/><line x1="1391.6" y1="429.2" x2="1391.6" y2="356" stroke="#45148c" stroke-width="2"/><polygon points="1391.6,346.2 1396.8,359.2 1386.4,359.2" fill="#45148c"/><line x1="1722.2" y1="429.2" x2="1722.2" y2="214" stroke="#d0202c" stroke-width="2"/><polygon points="1722.2,204.0 1727.0,216.5 1717.5,216.5" fill="#d0202c"/><path d="M1290.2,403.2 Q1303.1,429.2 1290.2,455.2 Q1277.3,429.2 1290.2,403.2 Z" fill="#47a6f2" stroke="#1a1a1a" stroke-width="1.2"/><rect x="1311.3" y="403.2" width="11.8" height="52.2" fill="#fca864" stroke="#1a1a1a" stroke-width="1.2"/><rect x="1338.1" y="403.2" width="11.8" height="52.2" fill="#ecc038" stroke="#1a1a1a" stroke-width="1.2"/><rect x="1365.3" y="403.2" width="52.4" height="52.2" fill="#6cb8f8" fill-opacity=".85" stroke="#1a1a1a" stroke-width="1.2"/><line x1="1365.3" y1="455.4" x2="1417.7" y2="403.2" stroke="#1a1a1a" stroke-width="1.2"/><rect x="1696.5" y="403.2" width="52.4" height="52.2" fill="#6cb8f8" fill-opacity=".85" stroke="#1a1a1a" stroke-width="1.2"/><line x1="1696.5" y1="455.4" x2="1748.9" y2="403.2" stroke="#1a1a1a" stroke-width="1.2"/><rect x="1433" y="403.2" width="11.8" height="52.2" fill="#fca864" stroke="#1a1a1a" stroke-width="1.2"/><path d="M1465.4,403.2 Q1478.3,429.2 1465.4,455.2 Q1452.5,429.2 1465.4,403.2 Z" fill="#47a6f2" stroke="#1a1a1a" stroke-width="1.2"/><rect x="1488.2" y="403.2" width="112.4" height="52.2" fill="#d2d2d2" stroke="#1a1a1a" stroke-width="1.2"/><text x="1544.4" y="437.5" font-family='"Liberation Sans", sans-serif' font-size="24" fill="#161616" text-anchor="middle" textLength="71.0" lengthAdjust="spacingAndGlyphs">PPKTP</text>
<text x="1493.5" y="394.6" font-family='"Liberation Sans", sans-serif' font-size="16.5" fill="#1a1a1a" textLength="97.0" lengthAdjust="spacingAndGlyphs">SPDC Type II</text>
<path d="M1622.9,403.2 Q1635.8,429.2 1622.9,455.2 Q1610.0,429.2 1622.9,403.2 Z" fill="#47a6f2" stroke="#1a1a1a" stroke-width="1.2"/><rect x="1646.2" y="403.2" width="12" height="52.2" fill="#70c848" stroke="#1a1a1a" stroke-width="1.2"/><rect x="1674.8" y="403.2" width="4.6" height="19" fill="#0a0a0a"/><rect x="1674.8" y="436.6" width="4.6" height="18.8" fill="#0a0a0a"/><text x="1757.0" y="422.7" font-family='"Liberation Sans", sans-serif' font-size="16.5" fill="#1a1a1a" textLength="45.0" lengthAdjust="spacingAndGlyphs">Signal</text>
<text x="1286.0" y="373.0" font-family='"Liberation Sans", sans-serif' font-size="16.5" fill="#1a1a1a" transform="rotate(45 1286.0 373.0)">HWP</text>
<text x="1316.0" y="373.0" font-family='"Liberation Sans", sans-serif' font-size="16.5" fill="#1a1a1a" transform="rotate(45 1316.0 373.0)">QWP</text>
<text x="1347.5" y="374.0" font-family='"Liberation Sans", sans-serif' font-size="16.5" fill="#1a1a1a" transform="rotate(45 1347.5 374.0)">PBS</text>
<text x="1410.0" y="373.0" font-family='"Liberation Sans", sans-serif' font-size="16.5" fill="#1a1a1a" transform="rotate(45 1410.0 373.0)">HWP</text>
<text x="1567.5" y="318.7" font-family='"Liberation Sans", sans-serif' font-size="16.5" fill="#1a1a1a" transform="rotate(45 1567.5 318.7)">Band pass filter</text>
<text x="1659.0" y="382.0" font-family='"Liberation Sans", sans-serif' font-size="16.5" fill="#1a1a1a" transform="rotate(45 1659.0 382.0)">Iris</text>
<text x="1678.5" y="374.5" font-family='"Liberation Sans", sans-serif' font-size="16.5" fill="#1a1a1a" transform="rotate(45 1678.5 374.5)">PBS</text>

<path d="M1696.6,238.2 Q1722.6,226.0 1748.6,238.2 Q1722.6,250.4 1696.6,238.2 Z" fill="#8cc8f8" stroke="#1a1a1a" stroke-width="1.2"/><line x1="1722.2" y1="250" x2="1722.2" y2="226" stroke="#d0202c" stroke-width="2" opacity=".55"/><path d="M1697.3,202.9 A26.3,26.3 0 0 1 1749.9,202.9 Z" fill="#7d90c0" stroke="#1a1a1a" stroke-width="1.2"/><text x="1680.8" y="173.0" font-family='"Liberation Sans", sans-serif' font-size="16.5" fill="#1a1a1a">APD</text>
<text x="1683.8" y="282.3" font-family='"Liberation Sans", sans-serif' font-size="16.5" fill="#1a1a1a">Idler</text>
<path d="M1722.6,176.6 C1723.5,163 1730,154 1745,148.5 C1765,141 1790,140.5 1797,134.5 C1802,129 1790,123 1782,117 C1774,110.5 1778,104 1790,101.5 C1815,97 1845,96.5 1872.2,96.3" fill="none" stroke="#14549c" stroke-width="2.2"/><path d="M1911.8,96.8 C1935,97.2 1958,99 1969,105 C1982,112 1984,125 1974,134 C1964,143 1958,150 1961,160 C1965,172 1979,180 1979.5,196 C1980,212 1972,218.5 1953.7,218.6" fill="none" stroke="#14549c" stroke-width="2.2"/><circle cx="1892" cy="96.6" r="19.8" fill="#fff" stroke="#1a1a1a" stroke-width="1.2"/><path d="M1880.5,85 L1903.5,108.2 M1903.5,85 L1880.5,108.2" stroke="#1a1a1a" stroke-width="1.2"/><text x="1846.3" y="133.3" font-family='"Liberation Sans", sans-serif' font-size="16.5" fill="#1a1a1a" textLength="91.6" lengthAdjust="spacingAndGlyphs">Coincidence</text>
<circle cx="1818.8" cy="218" r="44.2" fill="#e7e7e7" stroke="#1a1a1a" stroke-width="1.2"/><line x1="1821.5" y1="218.2" x2="1917" y2="218.2" stroke="#d0202c" stroke-width="2"/><polygon points="1927.8,218.2 1915.3,222.9 1915.3,213.4" fill="#d0202c"/><line x1="1821.5" y1="218.2" x2="1884" y2="429.2" stroke="#d0202c" stroke-width="2"/><polygon points="1835.0,186.8 1837.8,188.5 1802.8,247.1 1800.0,245.4" fill="#3a9cf4" stroke="#1a1a1a" stroke-width="1"/><text x="1807.5" y="211.0" font-family='"Liberation Sans", sans-serif' font-size="16.5" fill="#1a1a1a" text-anchor="middle" transform="rotate(-59 1807.5 211.0)">Mirror</text>
<path d="M1897.6,192.0 Q1910.2,218 1897.6,244.0 Q1885.0,218 1897.6,192.0 Z" fill="#8cc8f8" stroke="#1a1a1a" stroke-width="1.2"/><line x1="1890" y1="218.2" x2="1905" y2="218.2" stroke="#d0202c" stroke-width="2" opacity=".55"/><path d="M1927.8,191.9 A26.1,26.1 0 0 1 1927.8,244.1 Z" fill="#7d90c0" stroke="#1a1a1a" stroke-width="1.2"/><text x="1958.6" y="240.8" font-family='"Liberation Sans", sans-serif' font-size="16.5" fill="#1a1a1a">APD</text>
<path d="M1766.3,199.9 A55.5,55.5 0 0 1 1813.0,162.8" fill="none" stroke="#1a1a1a" stroke-width="1.3"/><polygon points="1818.0,162.3 1804.2,168.9 1802.4,161.6" fill="#1a1a1a"/><polygon points="1764.7,204.7 1767.5,189.3 1774.2,192.7" fill="#1a1a1a"/>
<polygon points="1856.2,412.2 1903.3,400.1 1869.0,457.4" fill="#58aaf4" fill-opacity=".86" stroke="#1a1a1a" stroke-width="1.2"/><polygon points="1907.0,401.8 1945.6,424.8 1912.5,481.1 1873.8,460.6" fill="#fab766"/><polyline points="1907.0,401.8 1945.6,424.8 1912.5,481.1 1873.8,460.6" fill="none" stroke="#c96a12" stroke-width="2.6" stroke-linejoin="miter"/><polygon points="1903.3,400.1 1907.6,402.3 1874.0,460.9 1869.0,457.4" fill="#ffe620"/><text x="1911.5" y="444.2" font-family='"Liberation Sans", sans-serif' font-size="11.5" fill="#1a1a1a" text-anchor="middle" transform="rotate(-58.5 1911.5 444.2)">Analyte</text>
<text x="1897.0" y="387.0" font-family='"Liberation Sans", sans-serif' font-size="14" fill="#1a1a1a" transform="rotate(-58 1897.0 387.0)">Prism</text>
<text x="1912.5" y="399.0" font-family='"Liberation Sans", sans-serif' font-size="14" fill="#1a1a1a" transform="rotate(-60 1912.5 399.0)">Gold</text>
<text x="1926.0" y="408.5" font-family='"Liberation Sans", sans-serif' font-size="14" fill="#1a1a1a" transform="rotate(-60 1926.0 408.5)">Acrylic</text>
<text x="1949.0" y="400.0" font-family='"Liberation Sans", sans-serif' font-size="14" fill="#1a1a1a" transform="rotate(-60 1949.0 400.0)">box</text>
<path d="M1956.8,437.9 A73,73 0 0 1 1928.2,487.3" fill="none" stroke="#1a1a1a" stroke-width="1.3"/><polygon points="1924.2,490.3 1932.7,477.6 1938.0,482.9" fill="#1a1a1a"/><polygon points="1957.4,432.9 1957.8,448.5 1950.5,446.6" fill="#1a1a1a"/><path d="M1856.2,412.2 L1658,516.5 M1912.5,481.1 L1876.4,665" fill="none" stroke="#1a1a1a" stroke-width="1.2" stroke-dasharray="6,4"/>
<rect x="1646.5" y="516.5" width="229.7" height="170.5" rx="17" fill="#fff" stroke="#1a1a1a" stroke-width="1.2"/><text x="1661.8" y="539.4" font-family='"Liberation Sans", sans-serif' font-size="15.5" fill="#1a1a1a" textLength="122.6" lengthAdjust="spacingAndGlyphs">Layered structure</text>
<rect x="1675.8" y="551.6" width="170.4" height="50.5" fill="#80c2f8"/><rect x="1675.8" y="601.8" width="170.4" height="20.6" fill="#ffe92c"/><rect x="1675.8" y="622.1" width="170.4" height="39.4" fill="#fdd28c"/><path d="M1676.8,622.1 V660.5 H1845.2 V622.1" fill="none" stroke="#c8640c" stroke-width="2"/><text x="1682.7" y="590.3" font-family='"Liberation Sans", sans-serif' font-size="17" fill="#1a1a1a">prism</text>
<text x="1682.1" y="616.5" font-family='"Liberation Sans", sans-serif' font-size="17" fill="#1a1a1a" textLength="63.6" lengthAdjust="spacingAndGlyphs">gold film</text>
<text x="1682.1" y="642.5" font-family='"Liberation Sans", sans-serif' font-size="17" fill="#1a1a1a" textLength="53.0" lengthAdjust="spacingAndGlyphs">analyte</text>
<text x="1773.7" y="643.7" font-family='"Liberation Sans", sans-serif' font-size="14.5" fill="#1a1a1a" textLength="26.2" lengthAdjust="spacingAndGlyphs">SPP</text>
<text x="1772.5" y="675.0" font-family='"Liberation Sans", sans-serif' font-size="14.5" fill="#1a1a1a" textLength="70.7" lengthAdjust="spacingAndGlyphs">Acrylic box</text>
<line x1="1761" y1="559" x2="1761" y2="600.5" stroke="#1a1a1a" stroke-width="1.2" stroke-dasharray="4,3"/><line x1="1724.1" y1="563.6" x2="1756" y2="595.5" stroke="#c8202a" stroke-width="1.5"/><polygon points="1760.5,600.0 1751.8,595.9 1756.4,591.3" fill="#c8202a"/><line x1="1761" y1="600" x2="1791" y2="569" stroke="#c8202a" stroke-width="1.5"/><polygon points="1796.0,564.0 1792.1,572.7 1787.4,568.2" fill="#c8202a"/><path d="M1749.5,587 C1752,582.5 1757,581.5 1760.5,582 L1760.5,578" fill="none" stroke="#1a1a1a" stroke-width="1.1"/><text x="1738.5" y="572.5" font-family='"Liberation Serif", serif' font-size="17" fill="#1a1a1a" font-style="italic">θ</text>
<text x="1747.0" y="575.5" font-family='"Liberation Serif", serif' font-size="11.5" fill="#1a1a1a">in</text>
<defs><linearGradient id="sppG" gradientUnits="userSpaceOnUse" x1="0" y1="603.8" x2="0" y2="639.4"><stop offset="0" stop-color="#fff"/><stop offset=".25" stop-color="#ffb0a8"/><stop offset=".5" stop-color="#ff2a1a"/><stop offset=".75" stop-color="#ffb0a8"/><stop offset="1" stop-color="#fff"/></linearGradient></defs><path d="M1761,603.8 C1764,617 1778,621.5 1803,622.1 C1778,622.8 1764,628 1761,639.4 Z" fill="url(#sppG)"/>
<path d="M1203.5,547.8 l2.6,-1.2 M1214,587.2 l2.4,-1.2" stroke="#333" stroke-width="1.2"/><rect x="1199" y="639" width="1.5" height="3" fill="#ddd"/><clipPath id="ccClip"><rect x="1298.7" y="477.8" width="261.8" height="242.8"/></clipPath><path d="M1298.7,720.6 h4.5 M1560.5,720.6 h-4.5" stroke="#8a8a8a" stroke-width=".9"/><path d="M1298.7,708.5 h2.6 M1560.5,708.5 h-2.6" stroke="#8a8a8a" stroke-width=".9"/><path d="M1298.7,696.3 h2.6 M1560.5,696.3 h-2.6" stroke="#8a8a8a" stroke-width=".9"/><path d="M1298.7,684.2 h2.6 M1560.5,684.2 h-2.6" stroke="#8a8a8a" stroke-width=".9"/><path d="M1298.7,672.0 h2.6 M1560.5,672.0 h-2.6" stroke="#8a8a8a" stroke-width=".9"/><path d="M1298.7,659.9 h4.5 M1560.5,659.9 h-4.5" stroke="#8a8a8a" stroke-width=".9"/><path d="M1298.7,647.8 h2.6 M1560.5,647.8 h-2.6" stroke="#8a8a8a" stroke-width=".9"/><path d="M1298.7,635.6 h2.6 M1560.5,635.6 h-2.6" stroke="#8a8a8a" stroke-width=".9"/><path d="M1298.7,623.5 h2.6 M1560.5,623.5 h-2.6" stroke="#8a8a8a" stroke-width=".9"/><path d="M1298.7,611.3 h2.6 M1560.5,611.3 h-2.6" stroke="#8a8a8a" stroke-width=".9"/><path d="M1298.7,599.2 h4.5 M1560.5,599.2 h-4.5" stroke="#8a8a8a" stroke-width=".9"/><path d="M1298.7,587.1 h2.6 M1560.5,587.1 h-2.6" stroke="#8a8a8a" stroke-width=".9"/><path d="M1298.7,574.9 h2.6 M1560.5,574.9 h-2.6" stroke="#8a8a8a" stroke-width=".9"/><path d="M1298.7,562.8 h2.6 M1560.5,562.8 h-2.6" stroke="#8a8a8a" stroke-width=".9"/><path d="M1298.7,550.6 h2.6 M1560.5,550.6 h-2.6" stroke="#8a8a8a" stroke-width=".9"/><path d="M1298.7,538.5 h4.5 M1560.5,538.5 h-4.5" stroke="#8a8a8a" stroke-width=".9"/><path d="M1298.7,526.4 h2.6 M1560.5,526.4 h-2.6" stroke="#8a8a8a" stroke-width=".9"/><path d="M1298.7,514.2 h2.6 M1560.5,514.2 h-2.6" stroke="#8a8a8a" stroke-width=".9"/><path d="M1298.7,502.1 h2.6 M1560.5,502.1 h-2.6" stroke="#8a8a8a" stroke-width=".9"/><path d="M1298.7,489.9 h2.6 M1560.5,489.9 h-2.6" stroke="#8a8a8a" stroke-width=".9"/><path d="M1298.7,477.8 h4.5 M1560.5,477.8 h-4.5" stroke="#8a8a8a" stroke-width=".9"/><path d="M1304.2,720.6 v-2.6 M1304.2,477.8 v2.6" stroke="#8a8a8a" stroke-width=".9"/><path d="M1316.6,720.6 v-2.6 M1316.6,477.8 v2.6" stroke="#8a8a8a" stroke-width=".9"/><path d="M1329.0,720.6 v-4.5 M1329.0,477.8 v4.5" stroke="#8a8a8a" stroke-width=".9"/><path d="M1341.4,720.6 v-2.6 M1341.4,477.8 v2.6" stroke="#8a8a8a" stroke-width=".9"/><path d="M1353.8,720.6 v-2.6 M1353.8,477.8 v2.6" stroke="#8a8a8a" stroke-width=".9"/><path d="M1366.2,720.6 v-2.6 M1366.2,477.8 v2.6" stroke="#8a8a8a" stroke-width=".9"/><path d="M1378.6,720.6 v-2.6 M1378.6,477.8 v2.6" stroke="#8a8a8a" stroke-width=".9"/><path d="M1391.0,720.6 v-4.5 M1391.0,477.8 v4.5" stroke="#8a8a8a" stroke-width=".9"/><path d="M1403.4,720.6 v-2.6 M1403.4,477.8 v2.6" stroke="#8a8a8a" stroke-width=".9"/><path d="M1415.8,720.6 v-2.6 M1415.8,477.8 v2.6" stroke="#8a8a8a" stroke-width=".9"/><path d="M1428.2,720.6 v-2.6 M1428.2,477.8 v2.6" stroke="#8a8a8a" stroke-width=".9"/><path d="M1440.6,720.6 v-2.6 M1440.6,477.8 v2.6" stroke="#8a8a8a" stroke-width=".9"/><path d="M1453.0,720.6 v-4.5 M1453.0,477.8 v4.5" stroke="#8a8a8a" stroke-width=".9"/><path d="M1465.4,720.6 v-2.6 M1465.4,477.8 v2.6" stroke="#8a8a8a" stroke-width=".9"/><path d="M1477.8,720.6 v-2.6 M1477.8,477.8 v2.6" stroke="#8a8a8a" stroke-width=".9"/><path d="M1490.2,720.6 v-2.6 M1490.2,477.8 v2.6" stroke="#8a8a8a" stroke-width=".9"/><path d="M1502.6,720.6 v-2.6 M1502.6,477.8 v2.6" stroke="#8a8a8a" stroke-width=".9"/><path d="M1515.0,720.6 v-4.5 M1515.0,477.8 v4.5" stroke="#8a8a8a" stroke-width=".9"/><path d="M1527.4,720.6 v-2.6 M1527.4,477.8 v2.6" stroke="#8a8a8a" stroke-width=".9"/><path d="M1539.8,720.6 v-2.6 M1539.8,477.8 v2.6" stroke="#8a8a8a" stroke-width=".9"/><path d="M1552.2,720.6 v-2.6 M1552.2,477.8 v2.6" stroke="#8a8a8a" stroke-width=".9"/>
<g clip-path="url(#ccClip)"><path d="M1302.0,679.6 C1302.7,679.3 1304.7,678.4 1306.0,677.7 C1307.3,677.1 1308.7,676.4 1310.0,675.8 C1311.3,675.1 1312.7,674.5 1314.0,673.8 C1315.3,673.2 1316.7,672.5 1318.0,671.8 C1319.3,671.1 1320.7,670.5 1322.0,669.8 C1323.3,669.1 1324.7,668.4 1326.0,667.7 C1327.3,667.0 1328.7,666.3 1330.0,665.5 C1331.3,664.8 1332.7,664.1 1334.0,663.4 C1335.3,662.6 1336.7,661.9 1338.0,661.1 C1339.3,660.4 1340.7,659.6 1342.0,658.9 C1343.3,658.1 1344.7,657.3 1346.0,656.5 C1347.3,655.8 1348.7,655.0 1350.0,654.2 C1351.3,653.4 1352.7,652.6 1354.0,651.8 C1355.3,651.0 1356.7,650.1 1358.0,649.3 C1359.3,648.5 1360.7,647.7 1362.0,646.8 C1363.3,646.0 1364.7,645.1 1366.0,644.3 C1367.3,643.4 1368.7,642.5 1370.0,641.6 C1371.3,640.8 1372.7,639.9 1374.0,639.0 C1375.3,638.1 1376.7,637.2 1378.0,636.3 C1379.3,635.3 1380.7,634.4 1382.0,633.5 C1383.3,632.6 1384.7,631.6 1386.0,630.7 C1387.3,629.7 1388.7,628.7 1390.0,627.8 C1391.3,626.8 1392.7,625.8 1394.0,624.8 C1395.3,623.8 1396.7,622.8 1398.0,621.8 C1399.3,620.8 1400.7,619.8 1402.0,618.8 C1403.3,617.7 1404.7,616.7 1406.0,615.6 C1407.3,614.6 1408.7,613.5 1410.0,612.4 C1411.3,611.4 1412.7,610.3 1414.0,609.2 C1415.3,608.1 1416.7,607.0 1418.0,605.9 C1419.3,604.8 1420.7,603.6 1422.0,602.5 C1423.3,601.3 1424.7,600.2 1426.0,599.0 C1427.3,597.9 1428.7,596.7 1430.0,595.5 C1431.3,594.3 1432.7,593.1 1434.0,591.9 C1435.3,590.7 1436.7,589.5 1438.0,588.2 C1439.3,587.0 1440.7,585.7 1442.0,584.5 C1443.3,583.2 1444.7,581.9 1446.0,580.7 C1447.3,579.4 1448.7,578.1 1450.0,576.8 C1451.3,575.4 1452.7,574.1 1454.0,572.8 C1455.3,571.4 1456.7,570.1 1458.0,568.7 C1459.3,567.4 1460.7,566.0 1462.0,564.6 C1463.3,563.2 1464.7,561.8 1466.0,560.4 C1467.3,558.9 1468.7,557.5 1470.0,556.0 C1471.3,554.6 1472.7,553.1 1474.0,551.6 C1475.3,550.2 1476.7,548.7 1478.0,547.2 C1479.3,545.6 1480.7,544.1 1482.0,542.6 C1483.3,541.0 1484.7,539.5 1486.0,537.9 C1487.3,536.3 1488.7,534.8 1490.0,533.1 C1491.3,531.5 1492.7,529.9 1494.0,528.3 C1495.3,526.6 1496.7,525.0 1498.0,523.3 C1499.3,521.7 1500.7,520.0 1502.0,518.3 C1503.3,516.6 1504.7,514.8 1506.0,513.1 C1507.3,511.4 1508.7,509.6 1510.0,507.8 C1511.3,506.1 1512.7,504.3 1514.0,502.5 C1515.3,500.6 1516.7,498.8 1518.0,497.0 C1519.3,495.1 1520.7,493.3 1522.0,491.4 C1523.3,489.5 1524.7,487.6 1526.0,485.7 C1527.3,483.7 1528.7,481.8 1530.0,479.8 C1531.3,477.9 1532.7,475.9 1534.0,473.9 C1535.3,471.9 1536.7,469.9 1538.0,467.8 C1539.3,465.8 1540.7,463.7 1542.0,461.7 C1543.3,459.6 1545.3,456.4 1546.0,455.3" fill="none" stroke="#0c1c8c" stroke-width="2"/><path d="M1302.0,690.6 C1302.7,690.3 1304.7,689.5 1306.0,688.9 C1307.3,688.3 1308.7,687.7 1310.0,687.1 C1311.3,686.5 1312.7,685.9 1314.0,685.3 C1315.3,684.6 1316.7,684.0 1318.0,683.4 C1319.3,682.8 1320.7,682.1 1322.0,681.5 C1323.3,680.9 1324.7,680.2 1326.0,679.6 C1327.3,678.9 1328.7,678.3 1330.0,677.6 C1331.3,677.0 1332.7,676.3 1334.0,675.6 C1335.3,675.0 1336.7,674.3 1338.0,673.6 C1339.3,672.9 1340.7,672.2 1342.0,671.6 C1343.3,670.9 1344.7,670.2 1346.0,669.5 C1347.3,668.7 1348.7,668.0 1350.0,667.3 C1351.3,666.6 1352.7,665.9 1354.0,665.1 C1355.3,664.4 1356.7,663.7 1358.0,662.9 C1359.3,662.2 1360.7,661.5 1362.0,660.7 C1363.3,659.9 1364.7,659.2 1366.0,658.4 C1367.3,657.6 1368.7,656.9 1370.0,656.1 C1371.3,655.3 1372.7,654.5 1374.0,653.7 C1375.3,652.9 1376.7,652.1 1378.0,651.3 C1379.3,650.5 1380.7,649.7 1382.0,648.9 C1383.3,648.0 1384.7,647.2 1386.0,646.4 C1387.3,645.5 1388.7,644.7 1390.0,643.8 C1391.3,643.0 1392.7,642.1 1394.0,641.3 C1395.3,640.4 1396.7,639.5 1398.0,638.6 C1399.3,637.7 1400.7,636.9 1402.0,636.0 C1403.3,635.1 1404.7,634.2 1406.0,633.2 C1407.3,632.3 1408.7,631.4 1410.0,630.5 C1411.3,629.5 1412.7,628.6 1414.0,627.7 C1415.3,626.7 1416.7,625.8 1418.0,624.8 C1419.3,623.8 1420.7,622.9 1422.0,621.9 C1423.3,620.9 1424.7,619.9 1426.0,618.9 C1427.3,617.9 1428.7,616.9 1430.0,615.9 C1431.3,614.9 1432.7,613.9 1434.0,612.8 C1435.3,611.8 1436.7,610.8 1438.0,609.7 C1439.3,608.7 1440.7,607.6 1442.0,606.5 C1443.3,605.5 1444.7,604.4 1446.0,603.3 C1447.3,602.2 1448.7,601.1 1450.0,600.0 C1451.3,598.9 1452.7,597.8 1454.0,596.7 C1455.3,595.6 1456.7,594.4 1458.0,593.3 C1459.3,592.1 1460.7,591.0 1462.0,589.8 C1463.3,588.7 1464.7,587.5 1466.0,586.3 C1467.3,585.1 1468.7,583.9 1470.0,582.7 C1471.3,581.5 1472.7,580.3 1474.0,579.1 C1475.3,577.8 1476.7,576.6 1478.0,575.4 C1479.3,574.1 1480.7,572.9 1482.0,571.6 C1483.3,570.3 1484.7,569.0 1486.0,567.7 C1487.3,566.5 1488.7,565.2 1490.0,563.8 C1491.3,562.5 1492.7,561.2 1494.0,559.9 C1495.3,558.5 1496.7,557.2 1498.0,555.8 C1499.3,554.5 1500.7,553.1 1502.0,551.7 C1503.3,550.3 1504.7,548.9 1506.0,547.5 C1507.3,546.1 1508.7,544.7 1510.0,543.3 C1511.3,541.8 1512.7,540.4 1514.0,538.9 C1515.3,537.5 1516.7,536.0 1518.0,534.5 C1519.3,533.0 1520.7,531.5 1522.0,530.0 C1523.3,528.5 1524.7,527.0 1526.0,525.5 C1527.3,523.9 1528.7,522.4 1530.0,520.8 C1531.3,519.3 1532.7,517.7 1534.0,516.1 C1535.3,514.5 1536.7,512.9 1538.0,511.3 C1539.3,509.7 1540.7,508.0 1542.0,506.4 C1543.3,504.7 1544.7,503.1 1546.0,501.4 C1547.3,499.7 1548.7,498.1 1550.0,496.4 C1551.3,494.6 1553.2,492.3 1554.0,491.2 C1554.8,490.1 1554.9,490.0 1555.1,489.8" fill="none" stroke="#dc3a1c" stroke-width="2"/></g><circle cx="1302.9" cy="693.6" r="3.9" fill="#5c88c2"/><circle cx="1331.9" cy="681.6" r="3.9" fill="#5c88c2"/><circle cx="1364.3" cy="659.6" r="3.9" fill="#5c88c2"/><circle cx="1381.7" cy="659.2" r="3.9" fill="#5c88c2"/><circle cx="1417" cy="630.1" r="3.9" fill="#5c88c2"/><circle cx="1442.7" cy="614.8" r="3.9" fill="#5c88c2"/><circle cx="1473.8" cy="582" r="3.9" fill="#5c88c2"/><circle cx="1502.4" cy="551.3" r="3.9" fill="#5c88c2"/><circle cx="1555.1" cy="501.9" r="3.9" fill="#5c88c2"/><rect x="1298.7" y="477.8" width="261.8" height="242.8" fill="none" stroke="#8a8a8a" stroke-width="1"/>
<text x="1295.0" y="726.0" font-family='"Liberation Sans", sans-serif' font-size="15.5" fill="#1a1a1a" text-anchor="end">0.10</text>
<text x="1295.0" y="665.3" font-family='"Liberation Sans", sans-serif' font-size="15.5" fill="#1a1a1a" text-anchor="end">0.15</text>
<text x="1295.0" y="604.6" font-family='"Liberation Sans", sans-serif' font-size="15.5" fill="#1a1a1a" text-anchor="end">0.20</text>
<text x="1295.0" y="543.9" font-family='"Liberation Sans", sans-serif' font-size="15.5" fill="#1a1a1a" text-anchor="end">0.25</text>
<text x="1295.0" y="483.2" font-family='"Liberation Sans", sans-serif' font-size="15.5" fill="#1a1a1a" text-anchor="end">0.30</text>
<text x="1329.0" y="737.2" font-family='"Liberation Sans", sans-serif' font-size="15.5" fill="#1a1a1a" text-anchor="middle">1.329</text>
<text x="1391.0" y="737.2" font-family='"Liberation Sans", sans-serif' font-size="15.5" fill="#1a1a1a" text-anchor="middle">1.330</text>
<text x="1453.0" y="737.2" font-family='"Liberation Sans", sans-serif' font-size="15.5" fill="#1a1a1a" text-anchor="middle">1.331</text>
<text x="1515.0" y="737.2" font-family='"Liberation Sans", sans-serif' font-size="15.5" fill="#1a1a1a" text-anchor="middle">1.332</text>
<text x="1404.5" y="756.0" font-family='"Liberation Sans", sans-serif' font-size="15.5" fill="#1a1a1a">&lt;<tspan font-style="italic">n</tspan><tspan font-size="10.5" dy="2.8">BSA</tspan><tspan dy="-2.8">&gt;</tspan></text>
<text x="1257.5" y="655.0" font-family='"Liberation Sans", sans-serif' font-size="15.5" fill="#1a1a1a" transform="rotate(-90 1257.5 655.0)">&lt;Δ<tspan font-style="italic">n</tspan><tspan font-size="10.5" dy="3">BSA</tspan><tspan dy="-3">&gt; (×10</tspan><tspan font-size="10.5" dy="-6">−3</tspan><tspan dy="6">)</tspan></text>
<text x="1338.5" y="640.0" font-family='"Liberation Sans", sans-serif' font-size="16" fill="#1c2ca0" textLength="119.0" lengthAdjust="spacingAndGlyphs" transform="rotate(-35.5 1338.5 640.0)">Classical sensing</text>
<text x="1427.5" y="667.0" font-family='"Liberation Sans", sans-serif' font-size="16" fill="#c8321c" textLength="121.0" lengthAdjust="spacingAndGlyphs" transform="rotate(-37 1427.5 667.0)">Quantum sensing</text>
</svg>
</body></html>
